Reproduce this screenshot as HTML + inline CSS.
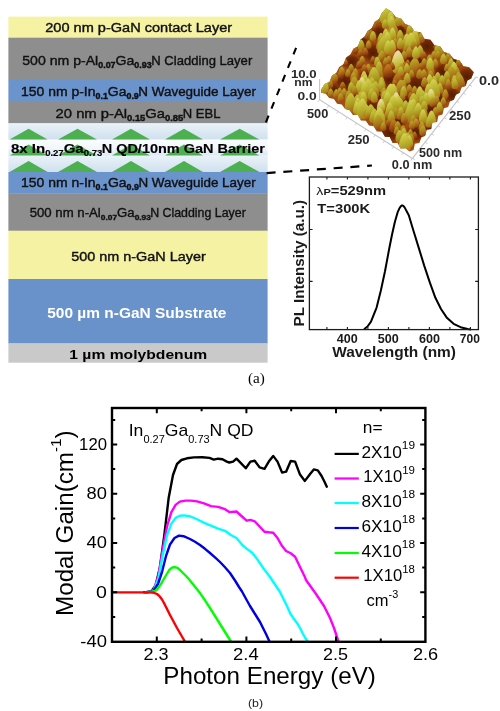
<!DOCTYPE html>
<html lang="en"><head><meta charset="utf-8"><title>Figure</title>
<style>html,body{margin:0;padding:0;background:#fff}svg{display:block;filter:blur(0.4px)}</style></head><body>
<svg width="500" height="711" viewBox="0 0 500 711">
<rect width="500" height="711" fill="#fff"/>
<defs><linearGradient id="qg" x1="0" y1="0" x2="0" y2="1"><stop offset="0" stop-color="#eaf2f9"/><stop offset="1" stop-color="#cfe0ee"/></linearGradient><linearGradient id="qg2" x1="0" y1="0" x2="0" y2="1"><stop offset="0" stop-color="#fbfdfe"/><stop offset="0.55" stop-color="#f1f6fb"/><stop offset="1" stop-color="#d9e8f4"/></linearGradient></defs>
<rect x="8.4" y="16.60" width="259.2" height="21.40" fill="#f5f2a4"/>
<rect x="8.4" y="37.70" width="259.2" height="42.60" fill="#8e8e8e"/>
<rect x="8.4" y="80.00" width="259.2" height="21.30" fill="#6b93cc"/>
<rect x="8.4" y="101.00" width="259.2" height="22.50" fill="#8e8e8e"/>
<rect x="8.4" y="123.20" width="259.2" height="16.60" fill="url(#qg)"/>
<rect x="8.4" y="139.50" width="259.2" height="16.30" fill="url(#qg2)"/>
<rect x="8.4" y="155.50" width="259.2" height="16.80" fill="url(#qg)"/>
<rect x="8.4" y="172.00" width="259.2" height="21.60" fill="#6b93cc"/>
<rect x="8.4" y="193.30" width="259.2" height="37.70" fill="#8e8e8e"/>
<rect x="8.4" y="230.70" width="259.2" height="48.60" fill="#f5f2a4"/>
<rect x="8.4" y="279.00" width="259.2" height="64.60" fill="#6a92ca"/>
<rect x="8.4" y="343.30" width="259.2" height="19.40" fill="#c9c9c9"/>
<polygon points="9.6,139.5 28.6,128.8 47.6,139.5" fill="#4caf50"/>
<polygon points="9.6,155.5 28.6,144.6 47.6,155.5" fill="#4caf50"/>
<polygon points="9.6,172.0 28.6,161.0 47.6,172.0" fill="#4caf50"/>
<polygon points="58.0,139.5 77.5,128.8 97.0,139.5" fill="#4caf50"/>
<polygon points="58.0,155.5 77.5,144.6 97.0,155.5" fill="#4caf50"/>
<polygon points="58.0,172.0 77.5,161.0 97.0,172.0" fill="#4caf50"/>
<polygon points="112.0,139.5 131.0,128.8 150.0,139.5" fill="#4caf50"/>
<polygon points="112.0,155.5 131.0,144.6 150.0,155.5" fill="#4caf50"/>
<polygon points="112.0,172.0 131.0,161.0 150.0,172.0" fill="#4caf50"/>
<polygon points="165.0,139.5 184.0,128.8 203.0,139.5" fill="#4caf50"/>
<polygon points="165.0,155.5 184.0,144.6 203.0,155.5" fill="#4caf50"/>
<polygon points="165.0,172.0 184.0,161.0 203.0,172.0" fill="#4caf50"/>
<polygon points="220.0,139.5 239.7,128.8 259.4,139.5" fill="#4caf50"/>
<polygon points="220.0,155.5 239.7,144.6 259.4,155.5" fill="#4caf50"/>
<polygon points="220.0,172.0 239.7,161.0 259.4,172.0" fill="#4caf50"/>
<line x1="265.9" y1="122.3" x2="296.2" y2="47.6" stroke="#000" stroke-width="2.1" stroke-dasharray="7.1 7.56"/>
<line x1="266.6" y1="173.1" x2="371.9" y2="165.5" stroke="#000" stroke-width="2.2" stroke-dasharray="9 7.8"/>
<path d="M319.6 79V99.6L412.4 158.4L476 76.8" fill="none" stroke="#c6c4c8" stroke-width="1.1"/>
<path d="M319.6 99.6l-1.6 2.2M412.4 158.4l2.4 1.4M328.9 105.5l-1.6 2.2M418.8 150.2l2.4 1.4M338.2 111.4l-1.6 2.2M425.1 142.1l2.4 1.4M347.4 117.2l-1.6 2.2M431.5 133.9l2.4 1.4M356.7 123.1l-1.6 2.2M437.8 125.8l2.4 1.4M366.0 129.0l-1.6 2.2M444.2 117.6l2.4 1.4M375.3 134.9l-1.6 2.2M450.6 109.4l2.4 1.4M384.6 140.8l-1.6 2.2M456.9 101.3l2.4 1.4M393.8 146.6l-1.6 2.2M463.3 93.1l2.4 1.4M403.1 152.5l-1.6 2.2M469.6 85.0l2.4 1.4M412.4 158.4l-1.6 2.2M476.0 76.8l2.4 1.4" stroke="#c6c4c8" stroke-width="0.9" fill="none"/>
<defs>
<linearGradient id="b0" x1="0.35" y1="0" x2="0.6" y2="1"><stop offset="0" stop-color="#f3dcc4"/><stop offset="0.3" stop-color="#dcd474"/><stop offset="0.62" stop-color="#c2b838"/><stop offset="0.9" stop-color="#b8841c"/><stop offset="1" stop-color="#b8841c" stop-opacity="0.6"/></linearGradient>
<linearGradient id="b1" x1="0.35" y1="0" x2="0.6" y2="1"><stop offset="0" stop-color="#d8d65c"/><stop offset="0.3" stop-color="#c6c03a"/><stop offset="0.62" stop-color="#b0a826"/><stop offset="0.9" stop-color="#b87e1a"/><stop offset="1" stop-color="#b87e1a" stop-opacity="0.6"/></linearGradient>
<linearGradient id="b2" x1="0.35" y1="0" x2="0.6" y2="1"><stop offset="0" stop-color="#c9c644"/><stop offset="0.3" stop-color="#b9b22e"/><stop offset="0.62" stop-color="#aa9420"/><stop offset="0.9" stop-color="#b06c16"/><stop offset="1" stop-color="#b06c16" stop-opacity="0.6"/></linearGradient>
<linearGradient id="b3" x1="0.35" y1="0" x2="0.6" y2="1"><stop offset="0" stop-color="#beac2e"/><stop offset="0.3" stop-color="#b29422"/><stop offset="0.62" stop-color="#a87218"/><stop offset="0.9" stop-color="#9a4c10"/><stop offset="1" stop-color="#9a4c10" stop-opacity="0.6"/></linearGradient>
<linearGradient id="b4" x1="0.35" y1="0" x2="0.6" y2="1"><stop offset="0" stop-color="#bc8a22"/><stop offset="0.3" stop-color="#b06c18"/><stop offset="0.62" stop-color="#9a4a10"/><stop offset="0.9" stop-color="#7e2e0a"/><stop offset="1" stop-color="#7e2e0a" stop-opacity="0.6"/></linearGradient>
<radialGradient id="dk"><stop offset="0" stop-color="#4a1406" stop-opacity="0.9"/><stop offset="0.55" stop-color="#5e1c08" stop-opacity="0.7"/><stop offset="1" stop-color="#7a2c0c" stop-opacity="0"/></radialGradient>
<linearGradient id="base" x1="0" y1="0" x2="0" y2="1"><stop offset="0" stop-color="#b4601a"/><stop offset="1" stop-color="#9a4410"/></linearGradient>
<filter id="sb" x="-5%" y="-5%" width="110%" height="110%"><feGaussianBlur stdDeviation="0.6"/></filter>
</defs>
<clipPath id="ac"><polygon points="386.0,8.3 391.6,11.8 395.6,16.9 401.3,18.8 405.2,24.1 410.8,26.1 414.7,31.5 420.9,32.2 424.3,38.7 430.4,39.7 434.3,44.9 440.2,46.4 444.0,52.0 449.6,53.8 453.7,59.0 459.5,60.4 463.3,66.0 469.3,67.3 473.8,72.2 471.2,78.4 467.4,80.5 465.7,85.9 461.5,87.3 459.8,92.8 455.9,94.7 453.8,99.7 449.8,101.4 448.2,107.1 443.9,108.3 442.5,114.4 438.4,115.8 437.1,122.1 432.4,122.6 431.2,129.0 426.6,129.7 425.2,135.7 421.2,137.5 419.4,142.9 414.9,143.7 413.6,150.0 409.6,151.6 405.7,148.2 400.5,148.5 397.6,143.0 392.6,142.9 389.8,137.0 384.9,136.7 381.9,131.5 376.8,131.4 373.8,126.3 369.0,125.5 365.8,120.8 360.9,120.4 358.0,115.0 352.9,115.0 349.7,110.3 345.1,109.1 341.8,104.6 337.1,103.7 333.9,98.9 329.2,97.9 325.8,93.7 321.1,92.7 321.2,89.5 324.6,84.1 329.4,82.1 332.0,75.6 336.3,72.7 339.2,66.9 343.6,64.1 346.1,57.4 350.4,54.5 353.3,48.8 357.9,46.3 360.4,39.8 364.6,36.5 367.6,31.1 371.9,27.9 374.6,21.9 379.0,18.9 381.8,13.1"/></clipPath>
<polygon points="386.0,8.3 391.6,11.8 395.6,16.9 401.3,18.8 405.2,24.1 410.8,26.1 414.7,31.5 420.9,32.2 424.3,38.7 430.4,39.7 434.3,44.9 440.2,46.4 444.0,52.0 449.6,53.8 453.7,59.0 459.5,60.4 463.3,66.0 469.3,67.3 473.8,72.2 471.2,78.4 467.4,80.5 465.7,85.9 461.5,87.3 459.8,92.8 455.9,94.7 453.8,99.7 449.8,101.4 448.2,107.1 443.9,108.3 442.5,114.4 438.4,115.8 437.1,122.1 432.4,122.6 431.2,129.0 426.6,129.7 425.2,135.7 421.2,137.5 419.4,142.9 414.9,143.7 413.6,150.0 409.6,151.6 405.7,148.2 400.5,148.5 397.6,143.0 392.6,142.9 389.8,137.0 384.9,136.7 381.9,131.5 376.8,131.4 373.8,126.3 369.0,125.5 365.8,120.8 360.9,120.4 358.0,115.0 352.9,115.0 349.7,110.3 345.1,109.1 341.8,104.6 337.1,103.7 333.9,98.9 329.2,97.9 325.8,93.7 321.1,92.7 321.2,89.5 324.6,84.1 329.4,82.1 332.0,75.6 336.3,72.7 339.2,66.9 343.6,64.1 346.1,57.4 350.4,54.5 353.3,48.8 357.9,46.3 360.4,39.8 364.6,36.5 367.6,31.1 371.9,27.9 374.6,21.9 379.0,18.9 381.8,13.1" fill="#a24e12"/><g clip-path="url(#ac)"><g filter="url(#sb)"><ellipse cx="372.8" cy="53.0" rx="13.0" ry="11.7" fill="url(#dk)"/><ellipse cx="379.0" cy="33.0" rx="10.2" ry="9.1" fill="url(#dk)"/><ellipse cx="416.0" cy="85.0" rx="14.5" ry="13.0" fill="url(#dk)"/><ellipse cx="345.6" cy="81.8" rx="13.0" ry="11.7" fill="url(#dk)"/><ellipse cx="467.0" cy="77.0" rx="13.0" ry="11.7" fill="url(#dk)"/><ellipse cx="390.0" cy="133.0" rx="13.0" ry="11.7" fill="url(#dk)"/><ellipse cx="427.0" cy="46.6" rx="13.0" ry="11.7" fill="url(#dk)"/><ellipse cx="443.0" cy="72.0" rx="11.6" ry="10.4" fill="url(#dk)"/><ellipse cx="390.0" cy="80.0" rx="11.6" ry="10.4" fill="url(#dk)"/><ellipse cx="372.0" cy="108.0" rx="11.6" ry="10.4" fill="url(#dk)"/><ellipse cx="416.0" cy="133.0" rx="11.6" ry="10.4" fill="url(#dk)"/><ellipse cx="352.0" cy="62.0" rx="10.2" ry="9.1" fill="url(#dk)"/><ellipse cx="402.0" cy="30.0" rx="8.7" ry="7.8" fill="url(#dk)"/><ellipse cx="452.0" cy="95.0" rx="10.2" ry="9.1" fill="url(#dk)"/><ellipse cx="333.0" cy="90.0" rx="8.7" ry="7.8" fill="url(#dk)"/><ellipse cx="407.0" cy="102.0" rx="10.2" ry="9.1" fill="url(#dk)"/><ellipse cx="430.0" cy="110.0" rx="10.2" ry="9.1" fill="url(#dk)"/><ellipse cx="380.0" cy="96.0" rx="7.2" ry="6.5" fill="url(#dk)"/><ellipse cx="398.0" cy="55.0" rx="8.7" ry="7.8" fill="url(#dk)"/><ellipse cx="362.0" cy="42.0" rx="8.7" ry="7.8" fill="url(#dk)"/><ellipse cx="440.0" cy="100.0" rx="8.7" ry="7.8" fill="url(#dk)"/><ellipse cx="420.0" cy="62.0" rx="8.7" ry="7.8" fill="url(#dk)"/><ellipse cx="355.0" cy="98.0" rx="8.7" ry="7.8" fill="url(#dk)"/><ellipse cx="398.0" cy="122.0" rx="8.7" ry="7.8" fill="url(#dk)"/><ellipse cx="445.0" cy="50.0" rx="8.7" ry="7.8" fill="url(#dk)"/><ellipse cx="410.0" cy="60.0" rx="7.2" ry="6.5" fill="url(#dk)"/><ellipse cx="365.0" cy="75.0" rx="7.2" ry="6.5" fill="url(#dk)"/><ellipse cx="430.0" cy="130.0" rx="7.2" ry="6.5" fill="url(#dk)"/><ellipse cx="455.0" cy="62.0" rx="7.2" ry="6.5" fill="url(#dk)"/><path d="M387.4 5.7c1.7 0 3.9 5.4 3.9 8.8c0 2.7 -2 3.8 -3.9 3.8c-2 0 -3.9 -1.1 -3.9 -3.8c0 -3.5 2.3 -8.8 3.9 -8.8z" fill="url(#b2)"/><path d="M392.9 9.3c1.3 0 3.1 3.9 3.1 6.5c0 1.9 -1.6 2.8 -3.1 2.8c-1.6 0 -3.1 -.8 -3.1 -2.8c0 -2.6 1.8 -6.5 3.1 -6.5z" fill="url(#b3)"/><path d="M385.6 5.1c2.4 0 5.8 8.2 5.8 13.5c0 4 -2.9 5.8 -5.8 5.8c-2.9 0 -5.8 -1.7 -5.8 -5.8c0 -5.3 3.4 -13.5 5.8 -13.5z" fill="url(#b1)"/><path d="M390.9 11.5c1.8 0 4.2 5.9 4.2 9.8c0 2.9 -2.1 4.2 -4.2 4.2c-2.1 0 -4.2 -1.3 -4.2 -4.2c0 -3.8 2.5 -9.8 4.2 -9.8z" fill="url(#b1)"/><path d="M376.9 15.3c1.4 0 3.3 4.2 3.3 7c0 2.1 -1.7 3 -3.3 3c-1.7 0 -3.3 -.9 -3.3 -3c0 -2.7 1.9 -7 3.3 -7z" fill="url(#b3)"/><path d="M398.8 13.2c1.7 0 4.1 5.5 4.1 9.1c0 2.7 -2 3.9 -4.1 3.9c-2 0 -4.1 -1.2 -4.1 -3.9c0 -3.6 2.4 -9.1 4.1 -9.1z" fill="url(#b2)"/><path d="M404.5 18.6c1.3 0 3 3.8 3 6.3c0 1.9 -1.5 2.7 -3 2.7c-1.5 0 -3 -.8 -3 -2.7c0 -2.5 1.8 -6.3 3 -6.3z" fill="url(#b3)"/><path d="M391.3 16c1.8 0 4.2 5.8 4.2 9.6c0 2.9 -2.1 4.1 -4.2 4.1c-2.1 0 -4.2 -1.2 -4.2 -4.1c0 -3.8 2.4 -9.6 4.2 -9.6z" fill="url(#b1)"/><path d="M385.1 19.1c1.4 0 3.2 4.2 3.2 7c0 2.1 -1.6 3 -3.2 3c-1.6 0 -3.2 -.9 -3.2 -3c0 -2.7 1.9 -7 3.2 -7z" fill="url(#b2)"/><path d="M406.9 22.9c1.2 0 2.8 3.3 2.8 5.5c0 1.6 -1.4 2.3 -2.8 2.3c-1.4 0 -2.8 -.7 -2.8 -2.3c0 -2.1 1.6 -5.5 2.8 -5.5z" fill="url(#b4)"/><path d="M373.7 22.6c1.1 0 2.7 3.3 2.7 5.5c0 1.7 -1.4 2.4 -2.7 2.4c-1.4 0 -2.7 -.7 -2.7 -2.4c0 -2.2 1.6 -5.5 2.7 -5.5z" fill="url(#b4)"/><path d="M389.3 25.8c1.4 0 3.4 4.1 3.4 6.7c0 2 -1.7 2.9 -3.4 2.9c-1.7 0 -3.4 -.9 -3.4 -2.9c0 -2.6 1.9 -6.7 3.4 -6.7z" fill="url(#b4)"/><path d="M410 23.8c1.6 0 3.8 5.2 3.8 8.6c0 2.6 -1.9 3.7 -3.8 3.7c-1.9 0 -3.8 -1.1 -3.8 -3.7c0 -3.4 2.2 -8.6 3.8 -8.6z" fill="url(#b2)"/><path d="M393.2 22.7c2.5 0 5.8 7.5 5.8 12.4c0 3.7 -2.9 5.3 -5.8 5.3c-2.9 0 -5.8 -1.6 -5.8 -5.3c0 -4.9 3.4 -12.4 5.8 -12.4z" fill="url(#b3)"/><path d="M415.8 25.7c1.4 0 3.4 4.7 3.4 7.7c0 2.3 -1.7 3.3 -3.4 3.3c-1.7 0 -3.4 -1 -3.4 -3.3c0 -3 2 -7.7 3.4 -7.7z" fill="url(#b2)"/><path d="M370.8 29.6c1.2 0 2.7 3.3 2.7 5.4c0 1.6 -1.4 2.3 -2.7 2.3c-1.4 0 -2.7 -.7 -2.7 -2.3c0 -2.1 1.6 -5.4 2.7 -5.4z" fill="url(#b4)"/><path d="M366.5 27.7c1.5 0 3.6 4.7 3.6 7.8c0 2.3 -1.8 3.3 -3.6 3.3c-1.8 0 -3.6 -1 -3.6 -3.3c0 -3 2.1 -7.8 3.6 -7.8z" fill="url(#b3)"/><path d="M373.8 31.4c1.1 0 2.6 3.1 2.6 5.2c0 1.6 -1.3 2.2 -2.6 2.2c-1.3 0 -2.6 -.7 -2.6 -2.2c0 -2 1.5 -5.2 2.6 -5.2z" fill="url(#b4)"/><path d="M411.5 30.6c1.4 0 3.3 4.1 3.3 6.7c0 2 -1.7 2.9 -3.3 2.9c-1.7 0 -3.3 -.9 -3.3 -2.9c0 -2.6 1.9 -6.7 3.3 -6.7z" fill="url(#b4)"/><path d="M392.6 27.6c1.6 0 3.8 5.5 3.8 9.1c0 2.7 -1.9 3.9 -3.8 3.9c-1.9 0 -3.8 -1.2 -3.8 -3.9c0 -3.6 2.2 -9.1 3.8 -9.1z" fill="url(#b1)"/><path d="M385.8 28.4c1.6 0 3.9 5.6 3.9 9.1c0 2.7 -1.9 3.9 -3.9 3.9c-1.9 0 -3.9 -1.2 -3.9 -3.9c0 -3.6 2.3 -9.1 3.9 -9.1z" fill="url(#b1)"/><path d="M372.9 30.9c1.4 0 3.3 4.3 3.3 7.1c0 2.1 -1.6 3 -3.3 3c-1.6 0 -3.3 -.9 -3.3 -3c0 -2.8 1.9 -7.1 3.3 -7.1z" fill="url(#b2)"/><path d="M400.1 29.8c1.5 0 3.6 5 3.6 8.2c0 2.5 -1.8 3.5 -3.6 3.5c-1.8 0 -3.6 -1.1 -3.6 -3.5c0 -3.2 2.1 -8.2 3.6 -8.2z" fill="url(#b2)"/><path d="M421.2 32.2c1.5 0 3.6 4.6 3.6 7.7c0 2.3 -1.8 3.3 -3.6 3.3c-1.8 0 -3.6 -1 -3.6 -3.3c0 -3 2.1 -7.7 3.6 -7.7z" fill="url(#b3)"/><path d="M414.9 29.5c1.8 0 4.2 6 4.2 10c0 3 -2.1 4.3 -4.2 4.3c-2.1 0 -4.2 -1.3 -4.2 -4.3c0 -3.9 2.4 -10 4.2 -10z" fill="url(#b1)"/><path d="M381.1 32.7c1.6 0 3.7 5.1 3.7 8.3c0 2.5 -1.9 3.6 -3.7 3.6c-1.9 0 -3.7 -1.1 -3.7 -3.6c0 -3.3 2.2 -8.3 3.7 -8.3z" fill="url(#b2)"/><path d="M406.7 33.4c1.6 0 3.8 5.4 3.8 8.8c0 2.6 -1.9 3.8 -3.8 3.8c-1.9 0 -3.8 -1.1 -3.8 -3.8c0 -3.5 2.2 -8.8 3.8 -8.8z" fill="url(#b1)"/><path d="M387.4 31.8c1.9 0 4.4 6.6 4.4 10.8c0 3.3 -2.2 4.6 -4.4 4.6c-2.2 0 -4.4 -1.4 -4.4 -4.6c0 -4.3 2.6 -10.8 4.4 -10.8z" fill="url(#b1)"/><path d="M395.3 38c1.2 0 3 3.8 3 6.3c0 1.9 -1.5 2.7 -3 2.7c-1.5 0 -3 -.8 -3 -2.7c0 -2.5 1.7 -6.3 3 -6.3z" fill="url(#b3)"/><path d="M417.2 38.3c1.3 0 3.1 3.9 3.1 6.4c0 1.9 -1.6 2.8 -3.1 2.8c-1.6 0 -3.1 -.8 -3.1 -2.8c0 -2.5 1.8 -6.4 3.1 -6.4z" fill="url(#b3)"/><path d="M411 32.4c2.6 0 6.1 8.4 6.1 13.9c0 4.2 -3 6 -6.1 6c-3 0 -6.1 -1.8 -6.1 -6c0 -5.5 3.5 -13.9 6.1 -13.9z" fill="url(#b1)"/><path d="M400.4 37.8c1.5 0 3.6 4.8 3.6 7.9c0 2.4 -1.8 3.4 -3.6 3.4c-1.8 0 -3.6 -1 -3.6 -3.4c0 -3.1 2.1 -7.9 3.6 -7.9z" fill="url(#b2)"/><path d="M368.6 40.3c1.2 0 2.9 3.7 2.9 6c0 1.8 -1.5 2.6 -2.9 2.6c-1.5 0 -2.9 -.8 -2.9 -2.6c0 -2.4 1.7 -6 2.9 -6z" fill="url(#b3)"/><path d="M435.5 43.5c.9 0 2.2 2.4 2.2 4c0 1.2 -1.1 1.7 -2.2 1.7c-1.1 0 -2.2 -.5 -2.2 -1.7c0 -1.6 1.2 -4 2.2 -4z" fill="url(#b4)"/><path d="M413.8 40.4c1.4 0 3.3 4.1 3.3 6.7c0 2 -1.6 2.9 -3.3 2.9c-1.6 0 -3.3 -.9 -3.3 -2.9c0 -2.6 1.9 -6.7 3.3 -6.7z" fill="url(#b3)"/><path d="M361.2 39.5c1.4 0 3.4 4.5 3.4 7.4c0 2.2 -1.7 3.2 -3.4 3.2c-1.7 0 -3.4 -1 -3.4 -3.2c0 -2.9 2 -7.4 3.4 -7.4z" fill="url(#b2)"/><path d="M378.7 41.7c1.2 0 2.8 3.5 2.8 5.8c0 1.7 -1.4 2.5 -2.8 2.5c-1.4 0 -2.8 -.7 -2.8 -2.5c0 -2.3 1.6 -5.8 2.8 -5.8z" fill="url(#b3)"/><path d="M383.5 35.8c2.7 0 6.3 8.6 6.3 14.2c0 4.3 -3.2 6.1 -6.3 6.1c-3.2 0 -6.3 -1.8 -6.3 -6.1c0 -5.6 3.7 -14.2 6.3 -14.2z" fill="url(#b2)"/><path d="M392.2 39.7c1.6 0 3.9 5.5 3.9 9c0 2.7 -1.9 3.9 -3.9 3.9c-1.9 0 -3.9 -1.2 -3.9 -3.9c0 -3.5 2.3 -9 3.9 -9z" fill="url(#b1)"/><path d="M406.3 43.6c1.3 0 3.2 4.1 3.2 6.8c0 2 -1.6 2.9 -3.2 2.9c-1.6 0 -3.2 -.9 -3.2 -2.9c0 -2.7 1.9 -6.8 3.2 -6.8z" fill="url(#b3)"/><path d="M388.2 40.2c1.7 0 4.2 6 4.2 9.9c0 3 -2.1 4.3 -4.2 4.3c-2.1 0 -4.2 -1.3 -4.2 -4.3c0 -3.9 2.4 -9.9 4.2 -9.9z" fill="url(#b1)"/><path d="M437.8 43.2c1.5 0 3.6 4.8 3.6 7.9c0 2.4 -1.8 3.4 -3.6 3.4c-1.8 0 -3.6 -1 -3.6 -3.4c0 -3.1 2.1 -7.9 3.6 -7.9z" fill="url(#b2)"/><path d="M355.4 46.3c1.2 0 2.9 3.5 2.9 5.8c0 1.7 -1.4 2.5 -2.9 2.5c-1.4 0 -2.9 -.7 -2.9 -2.5c0 -2.3 1.7 -5.8 2.9 -5.8z" fill="url(#b4)"/><path d="M365.3 47.4c1.3 0 3.2 3.9 3.2 6.4c0 1.9 -1.6 2.7 -3.2 2.7c-1.6 0 -3.2 -.8 -3.2 -2.7c0 -2.5 1.8 -6.4 3.2 -6.4z" fill="url(#b4)"/><path d="M420.1 45.3c1.5 0 3.6 4.9 3.6 8c0 2.4 -1.8 3.4 -3.6 3.4c-1.8 0 -3.6 -1 -3.6 -3.4c0 -3.1 2.1 -8 3.6 -8z" fill="url(#b2)"/><path d="M443.3 46.7c1.4 0 3.4 4.3 3.4 7.1c0 2.1 -1.7 3 -3.4 3c-1.7 0 -3.4 -.9 -3.4 -3c0 -2.8 2 -7.1 3.4 -7.1z" fill="url(#b3)"/><path d="M409.1 47c1.5 0 3.5 4.4 3.5 7.2c0 2.2 -1.7 3.1 -3.5 3.1c-1.7 0 -3.5 -.9 -3.5 -3.1c0 -2.8 2 -7.2 3.5 -7.2z" fill="url(#b3)"/><path d="M360.5 49c1.3 0 3.1 3.7 3.1 6c0 1.8 -1.5 2.6 -3.1 2.6c-1.5 0 -3.1 -.8 -3.1 -2.6c0 -2.4 1.8 -6 3.1 -6z" fill="url(#b4)"/><path d="M415.9 46.2c1.7 0 3.9 5.5 3.9 9.1c0 2.7 -2 3.9 -3.9 3.9c-2 0 -3.9 -1.2 -3.9 -3.9c0 -3.6 2.3 -9.1 3.9 -9.1z" fill="url(#b1)"/><path d="M404 50.8c1.3 0 3.1 3.8 3.1 6.3c0 1.9 -1.5 2.7 -3.1 2.7c-1.5 0 -3.1 -.8 -3.1 -2.7c0 -2.5 1.8 -6.3 3.1 -6.3z" fill="url(#b3)"/><path d="M423.6 51.1c1.3 0 3.2 3.9 3.2 6.4c0 1.9 -1.6 2.7 -3.2 2.7c-1.6 0 -3.2 -.8 -3.2 -2.7c0 -2.5 1.8 -6.4 3.2 -6.4z" fill="url(#b4)"/><path d="M433.8 51.1c1.2 0 3 3.7 3 6.1c0 1.8 -1.5 2.6 -3 2.6c-1.5 0 -3 -.8 -3 -2.6c0 -2.4 1.7 -6.1 3 -6.1z" fill="url(#b3)"/><path d="M438 50.5c1.3 0 3.1 4 3.1 6.6c0 2 -1.6 2.8 -3.1 2.8c-1.6 0 -3.1 -.9 -3.1 -2.8c0 -2.6 1.8 -6.6 3.1 -6.6z" fill="url(#b3)"/><path d="M393.3 49.9c2.1 0 5 5.9 5 9.7c0 2.9 -2.5 4.1 -5 4.1c-2.5 0 -5 -1.2 -5 -4.1c0 -3.8 2.9 -9.7 5 -9.7z" fill="url(#b4)"/><path d="M382 50.6c1.4 0 3.4 4.5 3.4 7.3c0 2.2 -1.7 3.1 -3.4 3.1c-1.7 0 -3.4 -.9 -3.4 -3.1c0 -2.9 2 -7.3 3.4 -7.3z" fill="url(#b3)"/><path d="M448.7 52.1c1.4 0 3.4 4.4 3.4 7.3c0 2.2 -1.7 3.1 -3.4 3.1c-1.7 0 -3.4 -.9 -3.4 -3.1c0 -2.9 2 -7.3 3.4 -7.3z" fill="url(#b3)"/><path d="M380.1 53.5c1.2 0 2.9 3.7 2.9 6c0 1.8 -1.5 2.6 -2.9 2.6c-1.5 0 -2.9 -.8 -2.9 -2.6c0 -2.4 1.7 -6 2.9 -6z" fill="url(#b3)"/><path d="M376.3 56.7c1 0 2.4 2.8 2.4 4.6c0 1.4 -1.2 2 -2.4 2c-1.2 0 -2.4 -.6 -2.4 -2c0 -1.8 1.4 -4.6 2.4 -4.6z" fill="url(#b4)"/><path d="M373 56.1c1.2 0 2.8 3.4 2.8 5.5c0 1.7 -1.4 2.4 -2.8 2.4c-1.4 0 -2.8 -.7 -2.8 -2.4c0 -2.2 1.6 -5.5 2.8 -5.5z" fill="url(#b4)"/><path d="M443.5 53.5c1.4 0 3.4 4.5 3.4 7.4c0 2.2 -1.7 3.2 -3.4 3.2c-1.7 0 -3.4 -1 -3.4 -3.2c0 -2.9 2 -7.4 3.4 -7.4z" fill="url(#b2)"/><path d="M388.8 55.6c1.2 0 2.8 3.5 2.8 5.7c0 1.7 -1.4 2.4 -2.8 2.4c-1.4 0 -2.8 -.7 -2.8 -2.4c0 -2.2 1.6 -5.7 2.8 -5.7z" fill="url(#b3)"/><path d="M429.7 54.4c1.4 0 3.4 4.3 3.4 7.1c0 2.1 -1.7 3 -3.4 3c-1.7 0 -3.4 -.9 -3.4 -3c0 -2.8 1.9 -7.1 3.4 -7.1z" fill="url(#b3)"/><path d="M398.3 57.8c1.2 0 2.8 3.2 2.8 5.3c0 1.6 -1.4 2.3 -2.8 2.3c-1.4 0 -2.8 -.7 -2.8 -2.3c0 -2.1 1.6 -5.3 2.8 -5.3z" fill="url(#b4)"/><path d="M362.2 55.7c1.3 0 3 3.8 3 6.3c0 1.9 -1.5 2.7 -3 2.7c-1.5 0 -3 -.8 -3 -2.7c0 -2.5 1.7 -6.3 3 -6.3z" fill="url(#b3)"/><path d="M385.7 57.2c1.2 0 2.8 3.6 2.8 5.9c0 1.8 -1.4 2.5 -2.8 2.5c-1.4 0 -2.8 -.8 -2.8 -2.5c0 -2.3 1.6 -5.9 2.8 -5.9z" fill="url(#b3)"/><path d="M459.4 56.4c1.4 0 3.4 4.5 3.4 7.3c0 2.2 -1.7 3.1 -3.4 3.1c-1.7 0 -3.4 -.9 -3.4 -3.1c0 -2.9 2 -7.3 3.4 -7.3z" fill="url(#b3)"/><path d="M345.6 59c1.1 0 2.7 3.2 2.7 5.3c0 1.6 -1.4 2.3 -2.7 2.3c-1.4 0 -2.7 -.7 -2.7 -2.3c0 -2.1 1.6 -5.3 2.7 -5.3z" fill="url(#b4)"/><path d="M377.3 56.8c1.3 0 3.2 4.2 3.2 6.9c0 2.1 -1.6 3 -3.2 3c-1.6 0 -3.2 -.9 -3.2 -3c0 -2.7 1.8 -6.9 3.2 -6.9z" fill="url(#b2)"/><path d="M424.2 57.9c1.3 0 3.1 3.9 3.1 6.5c0 1.9 -1.5 2.8 -3.1 2.8c-1.5 0 -3.1 -.8 -3.1 -2.8c0 -2.5 1.8 -6.5 3.1 -6.5z" fill="url(#b3)"/><path d="M407.8 59.4c1.1 0 2.7 3.3 2.7 5.5c0 1.6 -1.4 2.4 -2.7 2.4c-1.4 0 -2.7 -.7 -2.7 -2.4c0 -2.2 1.6 -5.5 2.7 -5.5z" fill="url(#b4)"/><path d="M413.2 59.6c1.3 0 3.1 3.6 3.1 6c0 1.8 -1.5 2.6 -3.1 2.6c-1.5 0 -3.1 -.8 -3.1 -2.6c0 -2.4 1.8 -6 3.1 -6z" fill="url(#b4)"/><path d="M435.3 58.5c1.3 0 3.1 4 3.1 6.6c0 2 -1.5 2.8 -3.1 2.8c-1.5 0 -3.1 -.8 -3.1 -2.8c0 -2.6 1.8 -6.6 3.1 -6.6z" fill="url(#b3)"/><path d="M394.6 60.6c1.1 0 2.7 3.2 2.7 5.3c0 1.6 -1.4 2.3 -2.7 2.3c-1.4 0 -2.7 -.7 -2.7 -2.3c0 -2.1 1.6 -5.3 2.7 -5.3z" fill="url(#b4)"/><path d="M398 50.3c2.9 0 6.8 9.9 6.8 16.4c0 4.9 -3.4 7 -6.8 7c-3.4 0 -6.8 -2.1 -6.8 -7c0 -6.4 3.9 -16.4 6.8 -16.4z" fill="url(#b0)"/><path d="M358.9 60.8c1.2 0 2.9 3.5 2.9 5.8c0 1.7 -1.5 2.5 -2.9 2.5c-1.5 0 -2.9 -.7 -2.9 -2.5c0 -2.3 1.7 -5.8 2.9 -5.8z" fill="url(#b4)"/><path d="M416.3 58.7c1.5 0 3.7 4.7 3.7 7.7c0 2.3 -1.8 3.3 -3.7 3.3c-1.8 0 -3.7 -1 -3.7 -3.3c0 -3 2.1 -7.7 3.7 -7.7z" fill="url(#b3)"/><path d="M404.4 61.8c1.1 0 2.7 3.1 2.7 5.1c0 1.5 -1.3 2.2 -2.7 2.2c-1.3 0 -2.7 -.7 -2.7 -2.2c0 -2 1.5 -5.1 2.7 -5.1z" fill="url(#b4)"/><path d="M451.1 58c1.4 0 3.4 4.7 3.4 7.7c0 2.3 -1.7 3.3 -3.4 3.3c-1.7 0 -3.4 -1 -3.4 -3.3c0 -3 2 -7.7 3.4 -7.7z" fill="url(#b2)"/><path d="M392.1 62c1.3 0 3 3.5 3 5.8c0 1.7 -1.5 2.5 -3 2.5c-1.5 0 -3 -.7 -3 -2.5c0 -2.3 1.8 -5.8 3 -5.8z" fill="url(#b4)"/><path d="M430.1 57.4c1.6 0 3.9 5.5 3.9 9.1c0 2.7 -1.9 3.9 -3.9 3.9c-1.9 0 -3.9 -1.2 -3.9 -3.9c0 -3.6 2.3 -9.1 3.9 -9.1z" fill="url(#b1)"/><path d="M414.2 58.2c2.3 0 5.5 7.1 5.5 11.6c0 3.5 -2.7 5 -5.5 5c-2.7 0 -5.5 -1.5 -5.5 -5c0 -4.6 3.2 -11.6 5.5 -11.6z" fill="url(#b3)"/><path d="M401.9 62.9c1.2 0 2.8 3.5 2.8 5.8c0 1.7 -1.4 2.5 -2.8 2.5c-1.4 0 -2.8 -.7 -2.8 -2.5c0 -2.3 1.6 -5.8 2.8 -5.8z" fill="url(#b3)"/><path d="M420.8 62.7c1.4 0 3.3 4 3.3 6.6c0 2 -1.6 2.8 -3.3 2.8c-1.6 0 -3.3 -.8 -3.3 -2.8c0 -2.6 1.9 -6.6 3.3 -6.6z" fill="url(#b4)"/><path d="M447 63.6c1.2 0 2.9 3.6 2.9 5.9c0 1.8 -1.4 2.5 -2.9 2.5c-1.4 0 -2.9 -.8 -2.9 -2.5c0 -2.3 1.7 -5.9 2.9 -5.9z" fill="url(#b3)"/><path d="M368.3 63.8c1.3 0 3.1 3.8 3.1 6.3c0 1.9 -1.6 2.7 -3.1 2.7c-1.6 0 -3.1 -.8 -3.1 -2.7c0 -2.5 1.8 -6.3 3.1 -6.3z" fill="url(#b3)"/><path d="M379.1 61.3c1.6 0 3.7 5.1 3.7 8.3c0 2.5 -1.9 3.6 -3.7 3.6c-1.9 0 -3.7 -1.1 -3.7 -3.6c0 -3.3 2.1 -8.3 3.7 -8.3z" fill="url(#b2)"/><path d="M351.2 63.7c1.3 0 3.1 4 3.1 6.6c0 2 -1.6 2.8 -3.1 2.8c-1.6 0 -3.1 -.8 -3.1 -2.8c0 -2.6 1.8 -6.6 3.1 -6.6z" fill="url(#b3)"/><path d="M364.6 64.3c1.4 0 3.3 4.1 3.3 6.7c0 2 -1.7 2.9 -3.3 2.9c-1.7 0 -3.3 -.9 -3.3 -2.9c0 -2.6 1.9 -6.7 3.3 -6.7z" fill="url(#b4)"/><path d="M406.8 63.1c1.3 0 3.2 4.2 3.2 6.9c0 2.1 -1.6 3 -3.2 3c-1.6 0 -3.2 -.9 -3.2 -3c0 -2.7 1.8 -6.9 3.2 -6.9z" fill="url(#b2)"/><path d="M388.1 64.1c2.1 0 5 5.8 5 9.6c0 2.9 -2.5 4.1 -5 4.1c-2.5 0 -5 -1.2 -5 -4.1c0 -3.8 2.9 -9.6 5 -9.6z" fill="url(#b4)"/><path d="M372.1 66.7c1.2 0 2.8 3.4 2.8 5.5c0 1.7 -1.4 2.4 -2.8 2.4c-1.4 0 -2.8 -.7 -2.8 -2.4c0 -2.2 1.6 -5.5 2.8 -5.5z" fill="url(#b4)"/><path d="M431.1 65.1c1.5 0 3.6 4.7 3.6 7.8c0 2.3 -1.8 3.3 -3.6 3.3c-1.8 0 -3.6 -1 -3.6 -3.3c0 -3 2.1 -7.8 3.6 -7.8z" fill="url(#b3)"/><path d="M454 61.7c1.9 0 4.4 6.4 4.4 10.5c0 3.1 -2.2 4.5 -4.4 4.5c-2.2 0 -4.4 -1.3 -4.4 -4.5c0 -4.1 2.6 -10.5 4.4 -10.5z" fill="url(#b1)"/><path d="M341.8 66.4c1.3 0 3.2 4 3.2 6.6c0 2 -1.6 2.8 -3.2 2.8c-1.6 0 -3.2 -.9 -3.2 -2.8c0 -2.6 1.8 -6.6 3.2 -6.6z" fill="url(#b3)"/><path d="M399 67c1.3 0 3 3.8 3 6.2c0 1.9 -1.5 2.6 -3 2.6c-1.5 0 -3 -.8 -3 -2.6c0 -2.4 1.7 -6.2 3 -6.2z" fill="url(#b3)"/><path d="M400.9 66.2c1.4 0 3.2 4.2 3.2 7c0 2.1 -1.6 3 -3.2 3c-1.6 0 -3.2 -.9 -3.2 -3c0 -2.7 1.9 -7 3.2 -7z" fill="url(#b2)"/><path d="M457.2 67.4c1.3 0 3.1 4 3.1 6.6c0 2 -1.6 2.8 -3.1 2.8c-1.6 0 -3.1 -.9 -3.1 -2.8c0 -2.6 1.8 -6.6 3.1 -6.6z" fill="url(#b3)"/><path d="M348 69c1.2 0 2.8 3.5 2.8 5.7c0 1.7 -1.4 2.5 -2.8 2.5c-1.4 0 -2.8 -.7 -2.8 -2.5c0 -2.2 1.6 -5.7 2.8 -5.7z" fill="url(#b3)"/><path d="M355.4 68.3c1.3 0 3.1 4.1 3.1 6.7c0 2 -1.6 2.9 -3.1 2.9c-1.6 0 -3.1 -.9 -3.1 -2.9c0 -2.6 1.8 -6.7 3.1 -6.7z" fill="url(#b3)"/><path d="M411.6 69.7c1.2 0 2.9 3.6 2.9 5.9c0 1.8 -1.4 2.5 -2.9 2.5c-1.4 0 -2.9 -.8 -2.9 -2.5c0 -2.3 1.7 -5.9 2.9 -5.9z" fill="url(#b3)"/><path d="M419.7 68.9c1.5 0 3.5 4.3 3.5 7.1c0 2.1 -1.7 3.1 -3.5 3.1c-1.7 0 -3.5 -.9 -3.5 -3.1c0 -2.8 2 -7.1 3.5 -7.1z" fill="url(#b3)"/><path d="M340.3 70.7c1.3 0 3.1 3.6 3.1 5.9c0 1.8 -1.5 2.5 -3.1 2.5c-1.5 0 -3.1 -.8 -3.1 -2.5c0 -2.3 1.8 -5.9 3.1 -5.9z" fill="url(#b4)"/><path d="M451.2 66.3c2.2 0 5.3 6.7 5.3 11c0 3.3 -2.6 4.7 -5.3 4.7c-2.6 0 -5.3 -1.4 -5.3 -4.7c0 -4.3 3.1 -11 5.3 -11z" fill="url(#b3)"/><path d="M423.8 69c1.4 0 3.4 4.3 3.4 7.1c0 2.1 -1.7 3 -3.4 3c-1.7 0 -3.4 -.9 -3.4 -3c0 -2.8 2 -7.1 3.4 -7.1z" fill="url(#b3)"/><path d="M378.2 66.2c2.3 0 5.4 7.1 5.4 11.6c0 3.5 -2.7 5 -5.4 5c-2.7 0 -5.4 -1.5 -5.4 -5c0 -4.6 3.1 -11.6 5.4 -11.6z" fill="url(#b3)"/><path d="M430.9 70.5c1.3 0 3 3.8 3 6.3c0 1.9 -1.5 2.7 -3 2.7c-1.5 0 -3 -.8 -3 -2.7c0 -2.5 1.7 -6.3 3 -6.3z" fill="url(#b3)"/><path d="M446.9 71c1.4 0 3.4 4.5 3.4 7.4c0 2.2 -1.7 3.2 -3.4 3.2c-1.7 0 -3.4 -1 -3.4 -3.2c0 -2.9 2 -7.4 3.4 -7.4z" fill="url(#b2)"/><path d="M458.4 71.5c1.5 0 3.5 4.6 3.5 7.6c0 2.3 -1.8 3.2 -3.5 3.2c-1.8 0 -3.5 -1 -3.5 -3.2c0 -3 2.1 -7.6 3.5 -7.6z" fill="url(#b3)"/><path d="M355.9 73.6c1.2 0 2.8 3.5 2.8 5.7c0 1.7 -1.4 2.4 -2.8 2.4c-1.4 0 -2.8 -.7 -2.8 -2.4c0 -2.2 1.6 -5.7 2.8 -5.7z" fill="url(#b4)"/><path d="M334.5 72.5c1.5 0 3.5 4.3 3.5 7.1c0 2.1 -1.7 3.1 -3.5 3.1c-1.7 0 -3.5 -.9 -3.5 -3.1c0 -2.8 2 -7.1 3.5 -7.1z" fill="url(#b3)"/><path d="M353.6 72c1.5 0 3.5 4.5 3.5 7.4c0 2.2 -1.7 3.2 -3.5 3.2c-1.7 0 -3.5 -.9 -3.5 -3.2c0 -2.9 2 -7.4 3.5 -7.4z" fill="url(#b3)"/><path d="M374 67.1c2.6 0 6.2 8.3 6.2 13.7c0 4.1 -3.1 5.9 -6.2 5.9c-3.1 0 -6.2 -1.8 -6.2 -5.9c0 -5.4 3.6 -13.7 6.2 -13.7z" fill="url(#b2)"/><path d="M437.8 72c1.4 0 3.4 4.4 3.4 7.3c0 2.2 -1.7 3.1 -3.4 3.1c-1.7 0 -3.4 -.9 -3.4 -3.1c0 -2.9 1.9 -7.3 3.4 -7.3z" fill="url(#b2)"/><path d="M364 71.1c1.5 0 3.6 5.1 3.6 8.4c0 2.5 -1.8 3.6 -3.6 3.6c-1.8 0 -3.6 -1.1 -3.6 -3.6c0 -3.3 2.1 -8.4 3.6 -8.4z" fill="url(#b1)"/><path d="M407.2 72.8c1.5 0 3.5 4.6 3.5 7.6c0 2.3 -1.7 3.3 -3.5 3.3c-1.7 0 -3.5 -1 -3.5 -3.3c0 -3 2 -7.6 3.5 -7.6z" fill="url(#b2)"/><path d="M397.4 73.3c2.1 0 5.1 6.1 5.1 10c0 3 -2.5 4.3 -5.1 4.3c-2.5 0 -5.1 -1.3 -5.1 -4.3c0 -3.9 2.9 -10 5.1 -10z" fill="url(#b4)"/><path d="M442.1 75.1c1.4 0 3.4 4.5 3.4 7.4c0 2.2 -1.7 3.2 -3.4 3.2c-1.7 0 -3.4 -1 -3.4 -3.2c0 -2.9 2 -7.4 3.4 -7.4z" fill="url(#b2)"/><path d="M454.5 75c1.4 0 3.4 4.6 3.4 7.5c0 2.3 -1.7 3.2 -3.4 3.2c-1.7 0 -3.4 -1 -3.4 -3.2c0 -3 1.9 -7.5 3.4 -7.5z" fill="url(#b2)"/><path d="M459.6 73.7c2.3 0 5.5 7 5.5 11.5c0 3.5 -2.8 4.9 -5.5 4.9c-2.8 0 -5.5 -1.5 -5.5 -4.9c0 -4.5 3.2 -11.5 5.5 -11.5z" fill="url(#b3)"/><path d="M429.7 74.3c1.6 0 3.8 5.4 3.8 8.8c0 2.7 -1.9 3.8 -3.8 3.8c-1.9 0 -3.8 -1.1 -3.8 -3.8c0 -3.5 2.2 -8.8 3.8 -8.8z" fill="url(#b1)"/><path d="M434.2 75.8c1.5 0 3.6 4.9 3.6 8c0 2.4 -1.8 3.4 -3.6 3.4c-1.8 0 -3.6 -1 -3.6 -3.4c0 -3.2 2.1 -8 3.6 -8z" fill="url(#b2)"/><path d="M424.6 77c1.5 0 3.5 4.4 3.5 7.3c0 2.2 -1.7 3.1 -3.5 3.1c-1.7 0 -3.5 -.9 -3.5 -3.1c0 -2.9 2 -7.3 3.5 -7.3z" fill="url(#b3)"/><path d="M394.7 79.6c1.2 0 2.9 3.4 2.9 5.6c0 1.7 -1.5 2.4 -2.9 2.4c-1.5 0 -2.9 -.7 -2.9 -2.4c0 -2.2 1.7 -5.6 2.9 -5.6z" fill="url(#b4)"/><path d="M381.6 76.8c1.4 0 3.3 4.5 3.3 7.4c0 2.2 -1.7 3.2 -3.3 3.2c-1.7 0 -3.3 -.9 -3.3 -3.2c0 -2.9 1.9 -7.4 3.3 -7.4z" fill="url(#b2)"/><path d="M448.2 79c1.2 0 3 3.7 3 6.1c0 1.8 -1.5 2.6 -3 2.6c-1.5 0 -3 -.8 -3 -2.6c0 -2.4 1.7 -6.1 3 -6.1z" fill="url(#b3)"/><path d="M365.1 74.4c1.7 0 4.1 6 4.1 9.8c0 3 -2.1 4.2 -4.1 4.2c-2.1 0 -4.1 -1.3 -4.1 -4.2c0 -3.9 2.4 -9.8 4.1 -9.8z" fill="url(#b1)"/><path d="M329.5 77.9c1.5 0 3.6 4.5 3.6 7.5c0 2.2 -1.8 3.2 -3.6 3.2c-1.8 0 -3.6 -1 -3.6 -3.2c0 -2.9 2.1 -7.5 3.6 -7.5z" fill="url(#b3)"/><path d="M383 80.2c1.2 0 2.9 3.6 2.9 6c0 1.8 -1.5 2.6 -2.9 2.6c-1.5 0 -2.9 -.8 -2.9 -2.6c0 -2.3 1.7 -6 2.9 -6z" fill="url(#b3)"/><path d="M354.5 76.4c2.2 0 5.2 6.7 5.2 11c0 3.3 -2.6 4.7 -5.2 4.7c-2.6 0 -5.2 -1.4 -5.2 -4.7c0 -4.3 3 -11 5.2 -11z" fill="url(#b3)"/><path d="M454.9 78.4c1.4 0 3.4 4.6 3.4 7.5c0 2.3 -1.7 3.2 -3.4 3.2c-1.7 0 -3.4 -1 -3.4 -3.2c0 -3 1.9 -7.5 3.4 -7.5z" fill="url(#b2)"/><path d="M372 77.3c1.6 0 3.9 5.4 3.9 8.9c0 2.7 -1.9 3.8 -3.9 3.8c-1.9 0 -3.9 -1.1 -3.9 -3.8c0 -3.5 2.3 -8.9 3.9 -8.9z" fill="url(#b2)"/><path d="M403.3 80c1.5 0 3.6 4.7 3.6 7.7c0 2.3 -1.8 3.3 -3.6 3.3c-1.8 0 -3.6 -1 -3.6 -3.3c0 -3 2.1 -7.7 3.6 -7.7z" fill="url(#b3)"/><path d="M342.7 81.7c1.3 0 3.2 3.9 3.2 6.4c0 1.9 -1.6 2.7 -3.2 2.7c-1.6 0 -3.2 -.8 -3.2 -2.7c0 -2.5 1.8 -6.4 3.2 -6.4z" fill="url(#b4)"/><path d="M362 77.1c1.7 0 4 5.8 4 9.6c0 2.9 -2 4.1 -4 4.1c-2 0 -4 -1.2 -4 -4.1c0 -3.8 2.3 -9.6 4 -9.6z" fill="url(#b0)"/><path d="M381.4 80.2c1.6 0 3.8 5.1 3.8 8.4c0 2.5 -1.9 3.6 -3.8 3.6c-1.9 0 -3.8 -1.1 -3.8 -3.6c0 -3.3 2.2 -8.4 3.8 -8.4z" fill="url(#b2)"/><path d="M375.7 81.2c1.6 0 3.8 5 3.8 8.2c0 2.5 -1.9 3.5 -3.8 3.5c-1.9 0 -3.8 -1.1 -3.8 -3.5c0 -3.2 2.2 -8.2 3.8 -8.2z" fill="url(#b2)"/><path d="M400.8 79.7c2.3 0 5.5 6.8 5.5 11.3c0 3.4 -2.7 4.8 -5.5 4.8c-2.7 0 -5.5 -1.4 -5.5 -4.8c0 -4.4 3.2 -11.3 5.5 -11.3z" fill="url(#b3)"/><path d="M432.2 82.1c1.4 0 3.4 4.4 3.4 7.3c0 2.2 -1.7 3.1 -3.4 3.1c-1.7 0 -3.4 -.9 -3.4 -3.1c0 -2.9 2 -7.3 3.4 -7.3z" fill="url(#b3)"/><path d="M351.1 81.9c1.4 0 3.3 4.5 3.3 7.4c0 2.2 -1.7 3.2 -3.3 3.2c-1.7 0 -3.3 -1 -3.3 -3.2c0 -2.9 1.9 -7.4 3.3 -7.4z" fill="url(#b2)"/><path d="M409.3 84.2c1.3 0 3 3.7 3 6.1c0 1.8 -1.5 2.6 -3 2.6c-1.5 0 -3 -.8 -3 -2.6c0 -2.4 1.7 -6.1 3 -6.1z" fill="url(#b3)"/><path d="M324.7 79.6c1.7 0 4.1 6 4.1 9.9c0 3 -2 4.2 -4.1 4.2c-2 0 -4.1 -1.3 -4.1 -4.2c0 -3.9 2.4 -9.9 4.1 -9.9z" fill="url(#b1)"/><path d="M359.4 80c1.7 0 4.1 5.9 4.1 9.8c0 2.9 -2 4.2 -4.1 4.2c-2 0 -4.1 -1.3 -4.1 -4.2c0 -3.8 2.4 -9.8 4.1 -9.8z" fill="url(#b1)"/><path d="M368.2 78.8c1.8 0 4.3 6.5 4.3 10.8c0 3.2 -2.1 4.6 -4.3 4.6c-2.1 0 -4.3 -1.4 -4.3 -4.6c0 -4.2 2.5 -10.8 4.3 -10.8z" fill="url(#b1)"/><path d="M439.8 82.8c1.4 0 3.4 4.6 3.4 7.6c0 2.3 -1.7 3.2 -3.4 3.2c-1.7 0 -3.4 -1 -3.4 -3.2c0 -3 2 -7.6 3.4 -7.6z" fill="url(#b2)"/><path d="M414.6 85.8c1.3 0 3.1 3.8 3.1 6.3c0 1.9 -1.5 2.7 -3.1 2.7c-1.5 0 -3.1 -.8 -3.1 -2.7c0 -2.5 1.8 -6.3 3.1 -6.3z" fill="url(#b3)"/><path d="M354.6 85.6c1.4 0 3.2 4.1 3.2 6.7c0 2 -1.6 2.9 -3.2 2.9c-1.6 0 -3.2 -.9 -3.2 -2.9c0 -2.6 1.9 -6.7 3.2 -6.7z" fill="url(#b3)"/><path d="M390.1 86.1c1.3 0 3.1 3.9 3.1 6.4c0 1.9 -1.6 2.7 -3.1 2.7c-1.6 0 -3.1 -.8 -3.1 -2.7c0 -2.5 1.8 -6.4 3.1 -6.4z" fill="url(#b3)"/><path d="M339.6 87.5c1.2 0 2.8 3.6 2.8 5.9c0 1.8 -1.4 2.5 -2.8 2.5c-1.4 0 -2.8 -.8 -2.8 -2.5c0 -2.3 1.6 -5.9 2.8 -5.9z" fill="url(#b3)"/><path d="M433.7 78.9c2.7 0 6.3 9.3 6.3 15.2c0 4.6 -3.2 6.5 -6.3 6.5c-3.2 0 -6.3 -2 -6.3 -6.5c0 -6 3.7 -15.2 6.3 -15.2z" fill="url(#b1)"/><path d="M372 82.7c2.4 0 5.6 7.4 5.6 12.2c0 3.7 -2.8 5.2 -5.6 5.2c-2.8 0 -5.6 -1.6 -5.6 -5.2c0 -4.8 3.3 -12.2 5.6 -12.2z" fill="url(#b2)"/><path d="M403.6 85.8c1.5 0 3.5 4.7 3.5 7.8c0 2.3 -1.8 3.3 -3.5 3.3c-1.8 0 -3.5 -1 -3.5 -3.3c0 -3.1 2.1 -7.8 3.5 -7.8z" fill="url(#b2)"/><path d="M365 81.5c1.9 0 4.5 6.9 4.5 11.4c0 3.4 -2.3 4.9 -4.5 4.9c-2.3 0 -4.5 -1.5 -4.5 -4.9c0 -4.5 2.6 -11.4 4.5 -11.4z" fill="url(#b1)"/><path d="M428.5 83.5c1.7 0 4 6 4 9.9c0 3 -2 4.2 -4 4.2c-2 0 -4 -1.3 -4 -4.2c0 -3.9 2.3 -9.9 4 -9.9z" fill="url(#b1)"/><path d="M344.1 88.1c1.4 0 3.3 4.1 3.3 6.8c0 2 -1.6 2.9 -3.3 2.9c-1.6 0 -3.3 -.9 -3.3 -2.9c0 -2.7 1.9 -6.8 3.3 -6.8z" fill="url(#b3)"/><path d="M376.1 87.6c1.4 0 3.4 4.4 3.4 7.2c0 2.2 -1.7 3.1 -3.4 3.1c-1.7 0 -3.4 -.9 -3.4 -3.1c0 -2.8 2 -7.2 3.4 -7.2z" fill="url(#b3)"/><path d="M330.7 88.3c1.3 0 3.2 4.1 3.2 6.7c0 2 -1.6 2.9 -3.2 2.9c-1.6 0 -3.2 -.9 -3.2 -2.9c0 -2.6 1.9 -6.7 3.2 -6.7z" fill="url(#b3)"/><path d="M383.9 87.8c1.5 0 3.6 4.6 3.6 7.5c0 2.3 -1.8 3.2 -3.6 3.2c-1.8 0 -3.6 -1 -3.6 -3.2c0 -2.9 2.1 -7.5 3.6 -7.5z" fill="url(#b3)"/><path d="M393.5 83.7c1.8 0 4.4 6.5 4.4 10.7c0 3.2 -2.2 4.6 -4.4 4.6c-2.2 0 -4.4 -1.4 -4.4 -4.6c0 -4.2 2.5 -10.7 4.4 -10.7z" fill="url(#b1)"/><path d="M445.4 89.3c1.4 0 3.2 4.1 3.2 6.7c0 2 -1.6 2.9 -3.2 2.9c-1.6 0 -3.2 -.9 -3.2 -2.9c0 -2.6 1.9 -6.7 3.2 -6.7z" fill="url(#b3)"/><path d="M336.3 89c1.4 0 3.2 4.2 3.2 6.9c0 2.1 -1.6 2.9 -3.2 2.9c-1.6 0 -3.2 -.9 -3.2 -2.9c0 -2.7 1.9 -6.9 3.2 -6.9z" fill="url(#b3)"/><path d="M371.4 88.3c1.5 0 3.6 5 3.6 8.2c0 2.5 -1.8 3.5 -3.6 3.5c-1.8 0 -3.6 -1.1 -3.6 -3.5c0 -3.2 2.1 -8.2 3.6 -8.2z" fill="url(#b2)"/><path d="M419.8 86.2c1.9 0 4.4 6.4 4.4 10.5c0 3.1 -2.2 4.5 -4.4 4.5c-2.2 0 -4.4 -1.3 -4.4 -4.5c0 -4.1 2.6 -10.5 4.4 -10.5z" fill="url(#b1)"/><path d="M390.9 83.5c2.7 0 6.5 9.1 6.5 14.9c0 4.5 -3.2 6.4 -6.5 6.4c-3.2 0 -6.5 -1.9 -6.5 -6.4c0 -5.9 3.7 -14.9 6.5 -14.9z" fill="url(#b1)"/><path d="M410.6 92c1.1 0 2.7 3.4 2.7 5.5c0 1.7 -1.4 2.4 -2.7 2.4c-1.4 0 -2.7 -.7 -2.7 -2.4c0 -2.2 1.6 -5.5 2.7 -5.5z" fill="url(#b4)"/><path d="M432.8 89.7c1.5 0 3.5 4.7 3.5 7.7c0 2.3 -1.7 3.3 -3.5 3.3c-1.7 0 -3.5 -1 -3.5 -3.3c0 -3 2 -7.7 3.5 -7.7z" fill="url(#b2)"/><path d="M348.7 90.3c1.6 0 3.8 4.9 3.8 8.1c0 2.4 -1.9 3.5 -3.8 3.5c-1.9 0 -3.8 -1 -3.8 -3.5c0 -3.2 2.2 -8.1 3.8 -8.1z" fill="url(#b3)"/><path d="M402.4 92c1.3 0 3 3.8 3 6.3c0 1.9 -1.5 2.7 -3 2.7c-1.5 0 -3 -.8 -3 -2.7c0 -2.5 1.7 -6.3 3 -6.3z" fill="url(#b3)"/><path d="M384.6 90.6c1.6 0 3.8 5.2 3.8 8.5c0 2.6 -1.9 3.7 -3.8 3.7c-1.9 0 -3.8 -1.1 -3.8 -3.7c0 -3.4 2.2 -8.5 3.8 -8.5z" fill="url(#b2)"/><path d="M444.8 94.6c1.1 0 2.6 3.1 2.6 5.2c0 1.6 -1.3 2.2 -2.6 2.2c-1.3 0 -2.6 -.7 -2.6 -2.2c0 -2 1.5 -5.2 2.6 -5.2z" fill="url(#b4)"/><path d="M340.6 92.9c1.3 0 3.2 4.1 3.2 6.7c0 2 -1.6 2.9 -3.2 2.9c-1.6 0 -3.2 -.9 -3.2 -2.9c0 -2.7 1.9 -6.7 3.2 -6.7z" fill="url(#b3)"/><path d="M374.3 91.5c1.5 0 3.6 4.8 3.6 7.9c0 2.4 -1.8 3.4 -3.6 3.4c-1.8 0 -3.6 -1 -3.6 -3.4c0 -3.1 2.1 -7.9 3.6 -7.9z" fill="url(#b2)"/><path d="M431 88.7c1.8 0 4.3 6.2 4.3 10.3c0 3.1 -2.1 4.4 -4.3 4.4c-2.1 0 -4.3 -1.3 -4.3 -4.4c0 -4 2.5 -10.3 4.3 -10.3z" fill="url(#b0)"/><path d="M360.7 91.4c1.6 0 3.7 5.1 3.7 8.3c0 2.5 -1.9 3.6 -3.7 3.6c-1.9 0 -3.7 -1.1 -3.7 -3.6c0 -3.3 2.2 -8.3 3.7 -8.3z" fill="url(#b2)"/><path d="M422.9 90.6c1.7 0 4.2 5.7 4.2 9.4c0 2.8 -2.1 4 -4.2 4c-2.1 0 -4.2 -1.2 -4.2 -4c0 -3.7 2.4 -9.4 4.2 -9.4z" fill="url(#b2)"/><path d="M412.7 94.7c1.3 0 3 3.7 3 6.1c0 1.8 -1.5 2.6 -3 2.6c-1.5 0 -3 -.8 -3 -2.6c0 -2.4 1.7 -6.1 3 -6.1z" fill="url(#b3)"/><path d="M363.5 91.5c1.6 0 3.8 5.3 3.8 8.7c0 2.6 -1.9 3.7 -3.8 3.7c-1.9 0 -3.8 -1.1 -3.8 -3.7c0 -3.4 2.2 -8.7 3.8 -8.7z" fill="url(#b1)"/><path d="M436.5 95.4c1.4 0 3.3 4.1 3.3 6.7c0 2 -1.6 2.9 -3.3 2.9c-1.6 0 -3.3 -.9 -3.3 -2.9c0 -2.6 1.9 -6.7 3.3 -6.7z" fill="url(#b3)"/><path d="M387.5 91.4c1.9 0 4.5 6.4 4.5 10.6c0 3.2 -2.2 4.5 -4.5 4.5c-2.2 0 -4.5 -1.4 -4.5 -4.5c0 -4.2 2.6 -10.6 4.5 -10.6z" fill="url(#b1)"/><path d="M426.3 92.6c1.6 0 3.8 5.5 3.8 9.1c0 2.7 -1.9 3.9 -3.8 3.9c-1.9 0 -3.8 -1.2 -3.8 -3.9c0 -3.6 2.2 -9.1 3.8 -9.1z" fill="url(#b1)"/><path d="M348.4 95.7c1.4 0 3.4 4.3 3.4 7.1c0 2.1 -1.7 3.1 -3.4 3.1c-1.7 0 -3.4 -.9 -3.4 -3.1c0 -2.8 1.9 -7.1 3.4 -7.1z" fill="url(#b3)"/><path d="M422.1 95.8c1.4 0 3.4 4.4 3.4 7.3c0 2.2 -1.7 3.1 -3.4 3.1c-1.7 0 -3.4 -.9 -3.4 -3.1c0 -2.9 2 -7.3 3.4 -7.3z" fill="url(#b2)"/><path d="M357.3 94.3c1.6 0 3.9 5.3 3.9 8.8c0 2.6 -2 3.8 -3.9 3.8c-2 0 -3.9 -1.1 -3.9 -3.8c0 -3.4 2.3 -8.8 3.9 -8.8z" fill="url(#b2)"/><path d="M443.3 97c1.3 0 3.1 3.9 3.1 6.5c0 1.9 -1.5 2.8 -3.1 2.8c-1.5 0 -3.1 -.8 -3.1 -2.8c0 -2.5 1.8 -6.5 3.1 -6.5z" fill="url(#b3)"/><path d="M432.5 97.2c1.3 0 3.2 4.1 3.2 6.7c0 2 -1.6 2.9 -3.2 2.9c-1.6 0 -3.2 -.9 -3.2 -2.9c0 -2.6 1.8 -6.7 3.2 -6.7z" fill="url(#b3)"/><path d="M396.3 92.3c1.8 0 4.4 6.5 4.4 10.8c0 3.2 -2.2 4.6 -4.4 4.6c-2.2 0 -4.4 -1.4 -4.4 -4.6c0 -4.2 2.5 -10.8 4.4 -10.8z" fill="url(#b0)"/><path d="M413.6 93c2.3 0 5.5 7.5 5.5 12.4c0 3.7 -2.8 5.3 -5.5 5.3c-2.8 0 -5.5 -1.6 -5.5 -5.3c0 -4.9 3.2 -12.4 5.5 -12.4z" fill="url(#b2)"/><path d="M350.9 93c2.6 0 6.1 8.4 6.1 13.9c0 4.2 -3.1 5.9 -6.1 5.9c-3.1 0 -6.1 -1.8 -6.1 -5.9c0 -5.4 3.6 -13.9 6.1 -13.9z" fill="url(#b2)"/><path d="M357.9 97.5c1.6 0 3.8 5.4 3.8 8.9c0 2.7 -1.9 3.8 -3.8 3.8c-1.9 0 -3.8 -1.1 -3.8 -3.8c0 -3.5 2.2 -8.9 3.8 -8.9z" fill="url(#b1)"/><path d="M382.6 98.9c1.5 0 3.6 4.9 3.6 8.1c0 2.4 -1.8 3.5 -3.6 3.5c-1.8 0 -3.6 -1 -3.6 -3.5c0 -3.2 2.1 -8.1 3.6 -8.1z" fill="url(#b2)"/><path d="M400.6 98.2c1.7 0 4.1 5.6 4.1 9.2c0 2.8 -2 4 -4.1 4c-2 0 -4.1 -1.2 -4.1 -4c0 -3.6 2.4 -9.2 4.1 -9.2z" fill="url(#b2)"/><path d="M413.6 98.8c1.5 0 3.6 5.1 3.6 8.3c0 2.5 -1.8 3.6 -3.6 3.6c-1.8 0 -3.6 -1.1 -3.6 -3.6c0 -3.3 2.1 -8.3 3.6 -8.3z" fill="url(#b1)"/><path d="M398.2 95.5c1.9 0 4.6 7 4.6 11.5c0 3.4 -2.3 4.9 -4.6 4.9c-2.3 0 -4.6 -1.5 -4.6 -4.9c0 -4.5 2.6 -11.5 4.6 -11.5z" fill="url(#b1)"/><path d="M424.1 100.4c1.5 0 3.6 4.8 3.6 7.9c0 2.4 -1.8 3.4 -3.6 3.4c-1.8 0 -3.6 -1 -3.6 -3.4c0 -3.1 2.1 -7.9 3.6 -7.9z" fill="url(#b2)"/><path d="M405.6 100.3c1.6 0 3.8 5.1 3.8 8.4c0 2.5 -1.9 3.6 -3.8 3.6c-1.9 0 -3.8 -1.1 -3.8 -3.6c0 -3.3 2.2 -8.4 3.8 -8.4z" fill="url(#b2)"/><path d="M439.6 101.7c1.4 0 3.4 4.5 3.4 7.4c0 2.2 -1.7 3.2 -3.4 3.2c-1.7 0 -3.4 -.9 -3.4 -3.2c0 -2.9 2 -7.4 3.4 -7.4z" fill="url(#b2)"/><path d="M393.1 95.6c2.1 0 5 7.7 5 12.7c0 3.8 -2.5 5.4 -5 5.4c-2.5 0 -5 -1.6 -5 -5.4c0 -5 2.9 -12.7 5 -12.7z" fill="url(#b1)"/><path d="M381 98.8c1.7 0 4.2 6.1 4.2 10c0 3 -2.1 4.3 -4.2 4.3c-2.1 0 -4.2 -1.3 -4.2 -4.3c0 -3.9 2.4 -10 4.2 -10z" fill="url(#b0)"/><path d="M357.1 101.8c1.7 0 4 5.7 4 9.4c0 2.8 -2 4 -4 4c-2 0 -4 -1.2 -4 -4c0 -3.7 2.3 -9.4 4 -9.4z" fill="url(#b1)"/><path d="M411 100.1c1.9 0 4.5 6.7 4.5 11c0 3.3 -2.3 4.7 -4.5 4.7c-2.3 0 -4.5 -1.4 -4.5 -4.7c0 -4.3 2.6 -11 4.5 -11z" fill="url(#b1)"/><path d="M389.7 102.2c1.7 0 4.1 5.7 4.1 9.4c0 2.8 -2 4 -4.1 4c-2 0 -4.1 -1.2 -4.1 -4c0 -3.7 2.4 -9.4 4.1 -9.4z" fill="url(#b1)"/><path d="M362.6 98.3c2.6 0 6.2 9 6.2 14.8c0 4.5 -3.1 6.4 -6.2 6.4c-3.1 0 -6.2 -1.9 -6.2 -6.4c0 -5.8 3.6 -14.8 6.2 -14.8z" fill="url(#b1)"/><path d="M418.4 102.7c1.7 0 4.1 5.8 4.1 9.6c0 2.9 -2 4.1 -4.1 4.1c-2 0 -4.1 -1.2 -4.1 -4.1c0 -3.8 2.4 -9.6 4.1 -9.6z" fill="url(#b1)"/><path d="M366.9 104.9c1.6 0 3.9 5.1 3.9 8.4c0 2.5 -1.9 3.6 -3.9 3.6c-1.9 0 -3.9 -1.1 -3.9 -3.6c0 -3.3 2.2 -8.4 3.9 -8.4z" fill="url(#b2)"/><path d="M435.3 107.1c1.4 0 3.3 4.1 3.3 6.7c0 2 -1.6 2.9 -3.3 2.9c-1.6 0 -3.3 -.9 -3.3 -2.9c0 -2.6 1.9 -6.7 3.3 -6.7z" fill="url(#b3)"/><path d="M379.4 108c1.3 0 3.1 3.9 3.1 6.3c0 1.9 -1.6 2.7 -3.1 2.7c-1.6 0 -3.1 -.8 -3.1 -2.7c0 -2.5 1.8 -6.3 3.1 -6.3z" fill="url(#b4)"/><path d="M417.2 105.8c1.6 0 3.9 5.2 3.9 8.6c0 2.6 -2 3.7 -3.9 3.7c-2 0 -3.9 -1.1 -3.9 -3.7c0 -3.4 2.3 -8.6 3.9 -8.6z" fill="url(#b2)"/><path d="M400.8 106.8c1.4 0 3.2 4.3 3.2 7.1c0 2.1 -1.6 3.1 -3.2 3.1c-1.6 0 -3.2 -.9 -3.2 -3.1c0 -2.8 1.9 -7.1 3.2 -7.1z" fill="url(#b2)"/><path d="M370.8 104.2c2.2 0 5.4 7 5.4 11.6c0 3.5 -2.7 5 -5.4 5c-2.7 0 -5.4 -1.5 -5.4 -5c0 -4.5 3.1 -11.6 5.4 -11.6z" fill="url(#b2)"/><path d="M424.7 108.2c1.3 0 3.1 4 3.1 6.6c0 2 -1.6 2.8 -3.1 2.8c-1.6 0 -3.1 -.9 -3.1 -2.8c0 -2.6 1.8 -6.6 3.1 -6.6z" fill="url(#b3)"/><path d="M395.9 107.6c1.6 0 3.8 5 3.8 8.2c0 2.4 -1.9 3.5 -3.8 3.5c-1.9 0 -3.8 -1 -3.8 -3.5c0 -3.2 2.2 -8.2 3.8 -8.2z" fill="url(#b3)"/><path d="M409.9 105.1c2.4 0 5.6 7.5 5.6 12.4c0 3.7 -2.8 5.3 -5.6 5.3c-2.8 0 -5.6 -1.6 -5.6 -5.3c0 -4.9 3.3 -12.4 5.6 -12.4z" fill="url(#b2)"/><path d="M399.9 110.4c1.3 0 3.2 4 3.2 6.5c0 2 -1.6 2.8 -3.2 2.8c-1.6 0 -3.2 -.8 -3.2 -2.8c0 -2.6 1.8 -6.5 3.2 -6.5z" fill="url(#b3)"/><path d="M386.9 110.6c1.3 0 3.1 3.8 3.1 6.3c0 1.9 -1.5 2.7 -3.1 2.7c-1.5 0 -3.1 -.8 -3.1 -2.7c0 -2.5 1.8 -6.3 3.1 -6.3z" fill="url(#b3)"/><path d="M374.4 108.6c1.6 0 3.9 5.2 3.9 8.6c0 2.6 -1.9 3.7 -3.9 3.7c-1.9 0 -3.9 -1.1 -3.9 -3.7c0 -3.4 2.3 -8.6 3.9 -8.6z" fill="url(#b2)"/><path d="M367.7 111.1c1.3 0 3.1 4 3.1 6.5c0 2 -1.6 2.8 -3.1 2.8c-1.6 0 -3.1 -.8 -3.1 -2.8c0 -2.6 1.8 -6.5 3.1 -6.5z" fill="url(#b3)"/><path d="M391.3 110.6c1.6 0 3.7 5 3.7 8.2c0 2.5 -1.9 3.5 -3.7 3.5c-1.9 0 -3.7 -1.1 -3.7 -3.5c0 -3.2 2.2 -8.2 3.7 -8.2z" fill="url(#b2)"/><path d="M373.3 111.2c1.6 0 3.9 5.1 3.9 8.5c0 2.5 -1.9 3.6 -3.9 3.6c-1.9 0 -3.9 -1.1 -3.9 -3.6c0 -3.3 2.3 -8.5 3.9 -8.5z" fill="url(#b2)"/><path d="M423.1 109.3c1.8 0 4.2 6.1 4.2 10.1c0 3 -2.1 4.3 -4.2 4.3c-2.1 0 -4.2 -1.3 -4.2 -4.3c0 -4 2.5 -10.1 4.2 -10.1z" fill="url(#b1)"/><path d="M404.3 112.8c1.5 0 3.5 4.5 3.5 7.4c0 2.2 -1.8 3.2 -3.5 3.2c-1.8 0 -3.5 -.9 -3.5 -3.2c0 -2.9 2 -7.4 3.5 -7.4z" fill="url(#b3)"/><path d="M379.5 107.6c2.5 0 5.9 8.4 5.9 13.8c0 4.2 -3 5.9 -5.9 5.9c-3 0 -5.9 -1.8 -5.9 -5.9c0 -5.4 3.4 -13.8 5.9 -13.8z" fill="url(#b1)"/><path d="M431.5 110.5c1.9 0 4.6 6.8 4.6 11.2c0 3.4 -2.3 4.8 -4.6 4.8c-2.3 0 -4.6 -1.4 -4.6 -4.8c0 -4.4 2.7 -11.2 4.6 -11.2z" fill="url(#b1)"/><path d="M413.2 115.1c1.4 0 3.4 4.4 3.4 7.2c0 2.2 -1.7 3.1 -3.4 3.1c-1.7 0 -3.4 -.9 -3.4 -3.1c0 -2.8 2 -7.2 3.4 -7.2z" fill="url(#b3)"/><path d="M378.4 114.5c2.2 0 5.2 6.6 5.2 10.9c0 3.3 -2.6 4.7 -5.2 4.7c-2.6 0 -5.2 -1.4 -5.2 -4.7c0 -4.3 3 -10.9 5.2 -10.9z" fill="url(#b3)"/><path d="M388.2 119.3c1.2 0 2.8 3.3 2.8 5.4c0 1.6 -1.4 2.3 -2.8 2.3c-1.4 0 -2.8 -.7 -2.8 -2.3c0 -2.1 1.6 -5.4 2.8 -5.4z" fill="url(#b4)"/><path d="M416.2 118.2c1.3 0 3.2 3.9 3.2 6.5c0 1.9 -1.6 2.8 -3.2 2.8c-1.6 0 -3.2 -.8 -3.2 -2.8c0 -2.5 1.8 -6.5 3.2 -6.5z" fill="url(#b3)"/><path d="M429.2 116c1.5 0 3.6 5 3.6 8.2c0 2.5 -1.8 3.5 -3.6 3.5c-1.8 0 -3.6 -1.1 -3.6 -3.5c0 -3.2 2.1 -8.2 3.6 -8.2z" fill="url(#b2)"/><path d="M411.9 120.5c1.3 0 3.1 3.8 3.1 6.3c0 1.9 -1.5 2.7 -3.1 2.7c-1.5 0 -3.1 -.8 -3.1 -2.7c0 -2.5 1.8 -6.3 3.1 -6.3z" fill="url(#b3)"/><path d="M393.9 119.4c2 0 4.7 5.6 4.7 9.3c0 2.8 -2.4 4 -4.7 4c-2.4 0 -4.7 -1.2 -4.7 -4c0 -3.6 2.7 -9.3 4.7 -9.3z" fill="url(#b4)"/><path d="M397.8 120.9c1.4 0 3.4 4.2 3.4 7c0 2.1 -1.7 3 -3.4 3c-1.7 0 -3.4 -.9 -3.4 -3c0 -2.7 2 -7 3.4 -7z" fill="url(#b3)"/><path d="M383.3 122.1c1.2 0 3 3.8 3 6.3c0 1.9 -1.5 2.7 -3 2.7c-1.5 0 -3 -.8 -3 -2.7c0 -2.5 1.7 -6.3 3 -6.3z" fill="url(#b3)"/><path d="M421.9 121.8c1.4 0 3.3 4.2 3.3 7c0 2.1 -1.6 3 -3.3 3c-1.6 0 -3.3 -.9 -3.3 -3c0 -2.7 1.9 -7 3.3 -7z" fill="url(#b3)"/><path d="M403 125.2c1.2 0 3 3.7 3 6.1c0 1.8 -1.5 2.6 -3 2.6c-1.5 0 -3 -.8 -3 -2.6c0 -2.4 1.7 -6.1 3 -6.1z" fill="url(#b3)"/><path d="M396.7 126.4c1.3 0 3 3.7 3 6.2c0 1.9 -1.5 2.6 -3 2.6c-1.5 0 -3 -.8 -3 -2.6c0 -2.4 1.8 -6.2 3 -6.2z" fill="url(#b3)"/><path d="M422.9 125.3c1.5 0 3.6 4.7 3.6 7.8c0 2.3 -1.8 3.3 -3.6 3.3c-1.8 0 -3.6 -1 -3.6 -3.3c0 -3.1 2.1 -7.8 3.6 -7.8z" fill="url(#b3)"/><path d="M410.4 129c1.1 0 2.7 3.4 2.7 5.6c0 1.7 -1.4 2.4 -2.7 2.4c-1.4 0 -2.7 -.7 -2.7 -2.4c0 -2.2 1.6 -5.6 2.7 -5.6z" fill="url(#b3)"/><path d="M403.8 128c1.6 0 3.8 5.1 3.8 8.4c0 2.5 -1.9 3.6 -3.8 3.6c-1.9 0 -3.8 -1.1 -3.8 -3.6c0 -3.3 2.2 -8.4 3.8 -8.4z" fill="url(#b2)"/><path d="M414.6 131.4c1.2 0 2.8 3.5 2.8 5.8c0 1.7 -1.4 2.5 -2.8 2.5c-1.4 0 -2.8 -.7 -2.8 -2.5c0 -2.3 1.7 -5.8 2.8 -5.8z" fill="url(#b4)"/><path d="M399.5 130c1.7 0 4 5.5 4 9c0 2.7 -2 3.9 -4 3.9c-2 0 -4 -1.2 -4 -3.9c0 -3.6 2.3 -9 4 -9z" fill="url(#b2)"/><path d="M411.2 133.5c1.3 0 3.2 4 3.2 6.6c0 2 -1.6 2.8 -3.2 2.8c-1.6 0 -3.2 -.9 -3.2 -2.8c0 -2.6 1.8 -6.6 3.2 -6.6z" fill="url(#b3)"/><path d="M407.7 132.4c1.6 0 3.7 4.9 3.7 8.1c0 2.4 -1.9 3.5 -3.7 3.5c-1.9 0 -3.7 -1 -3.7 -3.5c0 -3.2 2.1 -8.1 3.7 -8.1z" fill="url(#b2)"/><path d="M409.4 135.3c1.6 0 3.7 5.3 3.7 8.8c0 2.6 -1.9 3.8 -3.7 3.8c-1.9 0 -3.7 -1.1 -3.7 -3.8c0 -3.4 2.1 -8.8 3.7 -8.8z" fill="url(#b1)"/><path d="M404.7 133.1c2.5 0 5.9 8.4 5.9 13.8c0 4.1 -2.9 5.9 -5.9 5.9c-2.9 0 -5.9 -1.8 -5.9 -5.9c0 -5.4 3.4 -13.8 5.9 -13.8z" fill="url(#b1)"/></g></g>
<polyline points="364.0,329.2 367.5,326.5 371.0,321.6 376.6,307.6 380.8,290.8 385.0,271.2 389.2,248.8 392.0,234.8 394.8,222.2 397.6,212.4 399.2,208.8 400.4,206.8 401.2,205.8 401.9,205.4 402.7,205.5 403.5,206.1 404.6,207.4 408.8,215.2 413.0,229.2 418.6,247.4 424.2,265.6 429.8,282.4 435.4,297.8 441.0,309.0 446.6,317.4 453.6,323.8 460.6,327.2 467.6,329.0 471.0,329.4" fill="none" stroke="#000" stroke-width="2" stroke-linejoin="round"/>
<rect x="309.4" y="177.0" width="169.0" height="152.6" fill="none" stroke="#1c1c1c" stroke-width="1.3"/>
<path d="M326.9 329.6v-2.6M326.9 177.0v2.6M347.4 329.6v-2.6M347.4 177.0v2.6M367.9 329.6v-2.6M367.9 177.0v2.6M388.4 329.6v-2.6M388.4 177.0v2.6M408.9 329.6v-2.6M408.9 177.0v2.6M429.4 329.6v-2.6M429.4 177.0v2.6M449.9 329.6v-2.6M449.9 177.0v2.6M470.4 329.6v-2.6M470.4 177.0v2.6M309.4 229.5h3.2M478.4 229.5h-3.2M309.4 281.4h3.2M478.4 281.4h-3.2" stroke="#1c1c1c" stroke-width="1.1" fill="none"/>
<clipPath id="cc"><rect x="112.0" y="408.0" width="313.4" height="233.8"/></clipPath>
<g clip-path="url(#cc)" fill="none" stroke-width="2.4" stroke-linejoin="round" stroke-linecap="round">
<polyline points="144.0,592.3 148.0,592.0 151.2,591.4 155.6,585.6 160.0,566.9 164.3,535.2 168.7,497.7 173.0,475.0 177.0,464.0 181.4,460.0 187.0,458.3 194.0,457.4 202.3,457.3 209.5,457.9 213.8,459.6 218.1,458.7 222.5,459.3 226.8,461.6 229.3,462.5 233.1,461.6 236.5,458.7 240.9,463.1 245.8,468.3 250.4,461.6 254.7,460.8 259.6,467.4 264.5,468.8 268.8,461.6 273.2,455.9 277.5,461.6 282.1,472.6 286.1,471.7 290.7,461.0 295.1,461.6 300.0,474.6 304.9,480.9 310.1,474.0 313.8,469.4 317.8,470.3 321.6,476.0 324.5,481.8 326.8,486.7" stroke="#000"/>
<polyline points="146.0,592.3 150.5,591.4 154.0,589.4 158.4,575.5 162.7,549.6 167.0,526.5 171.4,512.1 175.6,504.9 179.8,501.6 185.5,500.6 191.0,500.6 197.0,501.4 204.0,503.4 211.0,506.1 218.1,506.9 225.0,509.2 229.3,512.1 236.5,511.5 240.9,515.5 246.6,520.7 250.4,519.9 254.7,521.3 259.6,526.5 264.5,531.7 268.8,532.3 273.2,532.8 277.5,538.0 282.1,546.1 286.1,551.0 290.7,553.3 295.1,556.8 300.0,566.9 304.9,577.0 306.0,580.0 310.1,585.8 316.0,594.0 320.0,600.0 324.0,606.0 327.0,612.0 330.0,618.0 332.0,623.0 334.0,628.0 336.0,634.0 338.0,640.0 339.5,644.0" stroke="#ff00ff"/>
<polyline points="146.0,592.3 150.5,591.6 154.0,589.9 158.4,578.4 162.7,555.3 167.0,535.2 171.4,523.6 175.6,517.9 179.8,515.8 184.0,515.4 189.5,516.2 196.5,519.0 203.7,522.6 210.9,525.6 218.1,528.6 225.0,530.8 230.8,535.0 236.5,538.0 242.3,545.0 246.6,548.6 252.4,553.0 258.2,560.6 263.9,569.0 269.7,576.5 272.0,580.0 276.0,586.0 280.0,592.0 283.0,598.0 286.0,604.0 288.5,609.5 290.5,614.0 294.0,619.0 298.0,624.5 300.5,629.0 303.0,634.0 305.0,637.5 307.0,640.5 308.5,644.0" stroke="#00ffff"/>
<polyline points="146.0,592.3 150.5,591.8 153.5,590.6 158.0,584.0 162.0,572.0 166.0,556.0 170.0,544.5 174.5,538.0 179.0,535.6 183.5,536.2 190.0,539.0 195.0,541.8 200.0,545.0 205.0,548.8 210.0,553.0 215.0,557.3 220.0,562.0 225.0,567.3 230.0,573.0 235.0,580.5 239.0,587.0 242.0,591.5 245.0,597.0 250.0,606.0 255.0,614.0 260.0,622.0 263.0,628.0 266.0,634.0 269.0,640.5 270.2,644.0" stroke="#0000e0"/>
<polyline points="146.0,592.3 152.0,591.6 156.3,590.3 160.6,584.6 165.0,577.0 169.2,570.0 172.0,567.6 174.4,567.0 177.5,567.8 180.0,570.0 183.0,573.0 186.0,576.0 189.0,579.3 192.0,583.0 196.0,587.9 200.0,593.1 205.0,600.3 210.0,608.0 215.0,616.0 220.0,624.0 225.0,632.0 230.0,640.0 232.5,644.0" stroke="#00ff00"/>
<polyline points="112.0,592.4 150.0,592.4 154.0,592.8 157.0,594.0 159.5,596.2 162.0,599.5 164.0,603.0 167.0,609.0 170.0,615.0 173.5,621.5 177.0,628.0 180.5,634.0 184.0,640.0 186.0,643.5" stroke="#ff0000"/>
</g>
<line x1="334.6" y1="453.9" x2="358.8" y2="453.9" stroke="#000" stroke-width="2.2"/>
<line x1="334.6" y1="478.5" x2="358.8" y2="478.5" stroke="#ff00ff" stroke-width="2.2"/>
<line x1="334.6" y1="503.0" x2="358.8" y2="503.0" stroke="#00ffff" stroke-width="2.2"/>
<line x1="334.6" y1="528.0" x2="358.8" y2="528.0" stroke="#0000e0" stroke-width="2.2"/>
<line x1="334.6" y1="553.0" x2="358.8" y2="553.0" stroke="#00ff00" stroke-width="2.2"/>
<line x1="334.6" y1="577.7" x2="358.8" y2="577.7" stroke="#ff0000" stroke-width="2.2"/>
<rect x="112.0" y="408.0" width="313.4" height="233.8" fill="none" stroke="#000" stroke-width="2.4"/>
<path d="M112.0 616.88h3.2M425.4 616.88h-3.2M112.0 592.25h5.2M425.4 592.25h-5.2M112.0 567.62h3.2M425.4 567.62h-3.2M112.0 543.00h5.2M425.4 543.00h-5.2M112.0 518.38h3.2M425.4 518.38h-3.2M112.0 493.75h5.2M425.4 493.75h-5.2M112.0 469.12h3.2M425.4 469.12h-3.2M112.0 444.50h5.2M425.4 444.50h-5.2M112.0 419.88h3.2M425.4 419.88h-3.2M156.8 641.8v-5.2M156.8 408.0v5.2M201.6 641.8v-3.2M201.6 408.0v3.2M246.4 641.8v-5.2M246.4 408.0v5.2M291.2 641.8v-3.2M291.2 408.0v3.2M336.0 641.8v-5.2M336.0 408.0v5.2M380.8 641.8v-3.2M380.8 408.0v3.2" stroke="#000" stroke-width="2" fill="none"/>
<text id="s1" transform="translate(45.27 32.00) scale(1.0943 1)" font-family='"Liberation Sans", sans-serif' font-size="13.30" font-weight="normal" fill="#111" stroke="#111" stroke-width="0.40" xml:space="preserve">200 nm p-GaN contact Layer</text>
<text id="s2a" transform="translate(22.28 64.70) scale(1.0760 1)" font-family='"Liberation Sans", sans-serif' font-size="13.10" font-weight="normal" fill="#111" stroke="#111" stroke-width="0.40" xml:space="preserve">500 nm p-Al<tspan dy="3.00" font-size="8.30" font-weight="bold">0.07</tspan><tspan dy="-3.00">Ga</tspan><tspan dy="3.00" font-size="8.30" font-weight="bold">0.93</tspan></text>
<text id="s2b" transform="translate(151.28 64.70) scale(0.9983 1)" font-family='"Liberation Sans", sans-serif' font-size="13.10" font-weight="normal" fill="#111" stroke="#111" stroke-width="0.40" xml:space="preserve">N Cladding Layer</text>
<text id="s3a" transform="translate(20.98 95.80) scale(1.0671 1)" font-family='"Liberation Sans", sans-serif' font-size="13.10" font-weight="normal" fill="#111" stroke="#111" stroke-width="0.40" xml:space="preserve">150 nm p-In<tspan dy="3.00" font-size="8.30" font-weight="bold">0.1</tspan><tspan dy="-3.00">Ga</tspan><tspan dy="3.00" font-size="8.30" font-weight="bold">0.9</tspan></text>
<text id="s3b" transform="translate(138.28 95.80) scale(1.0286 1)" font-family='"Liberation Sans", sans-serif' font-size="13.10" font-weight="normal" fill="#111" stroke="#111" stroke-width="0.40" xml:space="preserve">N Waveguide Layer</text>
<text id="s4a" transform="translate(55.58 117.80) scale(1.1291 1)" font-family='"Liberation Sans", sans-serif' font-size="13.10" font-weight="normal" fill="#111" stroke="#111" stroke-width="0.40" xml:space="preserve">20 nm p-Al<tspan dy="3.00" font-size="8.30" font-weight="bold">0.15</tspan><tspan dy="-3.00">Ga</tspan><tspan dy="3.00" font-size="8.30" font-weight="bold">0.85</tspan></text>
<text id="s4b" transform="translate(182.78 117.80) scale(0.9946 1)" font-family='"Liberation Sans", sans-serif' font-size="13.10" font-weight="normal" fill="#111" stroke="#111" stroke-width="0.40" xml:space="preserve">N EBL</text>
<text id="s5a" transform="translate(10.88 153.00) scale(1.1480 1)" font-family='"Liberation Sans", sans-serif' font-size="13.10" font-weight="bold" fill="#000" stroke="#000" stroke-width="0.15" xml:space="preserve">8x In<tspan dy="3.00" font-size="8.30" font-weight="bold">0.27</tspan><tspan dy="-3.00">Ga</tspan><tspan dy="3.00" font-size="8.30" font-weight="bold">0.73</tspan></text>
<text id="s5b" transform="translate(101.68 153.00) scale(1.1063 1)" font-family='"Liberation Sans", sans-serif' font-size="13.10" font-weight="bold" fill="#000" stroke="#000" stroke-width="0.15" xml:space="preserve">N QD/10nm GaN Barrier</text>
<text id="s6a" transform="translate(20.98 187.30) scale(1.0680 1)" font-family='"Liberation Sans", sans-serif' font-size="13.10" font-weight="normal" fill="#111" stroke="#111" stroke-width="0.40" xml:space="preserve">150 nm n-In<tspan dy="3.00" font-size="8.30" font-weight="bold">0.1</tspan><tspan dy="-3.00">Ga</tspan><tspan dy="3.00" font-size="8.30" font-weight="bold">0.9</tspan></text>
<text id="s6b" transform="translate(138.38 187.30) scale(1.0243 1)" font-family='"Liberation Sans", sans-serif' font-size="13.10" font-weight="normal" fill="#111" stroke="#111" stroke-width="0.40" xml:space="preserve">N Waveguide Layer</text>
<text id="s7a" transform="translate(29.64 217.40) scale(1.1001 1)" font-family='"Liberation Sans", sans-serif' font-size="12.00" font-weight="normal" fill="#111" stroke="#111" stroke-width="0.35" xml:space="preserve">500 nm n-Al<tspan dy="2.80" font-size="7.60" font-weight="bold">0.07</tspan><tspan dy="-2.80">Ga</tspan><tspan dy="2.80" font-size="7.60" font-weight="bold">0.93</tspan></text>
<text id="s7b" transform="translate(150.14 217.40) scale(1.0323 1)" font-family='"Liberation Sans", sans-serif' font-size="12.00" font-weight="normal" fill="#111" stroke="#111" stroke-width="0.35" xml:space="preserve">N Cladding Layer</text>
<text id="s8" transform="translate(71.26 261.00) scale(1.0748 1)" font-family='"Liberation Sans", sans-serif' font-size="13.40" font-weight="normal" fill="#111" stroke="#111" stroke-width="0.40" xml:space="preserve">500 nm n-GaN Layer</text>
<text id="s9" transform="translate(47.23 318.00) scale(1.1060 1)" font-family='"Liberation Sans", sans-serif' font-size="14.00" font-weight="bold" fill="#fff" xml:space="preserve">500 µm n-GaN Substrate</text>
<text id="s10" transform="translate(69.28 359.00) scale(1.1970 1)" font-family='"Liberation Sans", sans-serif' font-size="13.10" font-weight="bold" fill="#000" xml:space="preserve">1 µm molybdenum</text>
<text id="la" transform="translate(248.03 382.70) scale(1.0859 1)" font-family='"Liberation Serif", serif' font-size="14.00" font-weight="normal" fill="#000" xml:space="preserve">(a)</text>
<text id="lb" transform="translate(247.90 707.20) scale(1.1232 1)" font-family='"Liberation Sans", sans-serif' font-size="11.00" font-weight="normal" fill="#222" xml:space="preserve">(b)</text>
<text id="a1" transform="translate(290.88 78.00) scale(1.1814 1)" font-family='"Liberation Sans", sans-serif' font-size="11.20" font-weight="bold" fill="#2a2a2a" xml:space="preserve">10.0</text>
<text id="a2" transform="translate(294.32 86.40) scale(1.1527 1)" font-family='"Liberation Sans", sans-serif' font-size="10.50" font-weight="bold" fill="#2a2a2a" xml:space="preserve">nm</text>
<text id="a3" transform="translate(297.38 99.80) scale(1.2358 1)" font-family='"Liberation Sans", sans-serif' font-size="11.20" font-weight="bold" fill="#2a2a2a" xml:space="preserve">0.0</text>
<text id="a4" transform="translate(306.94 118.30) scale(1.0674 1)" font-family='"Liberation Sans", sans-serif' font-size="12.00" font-weight="bold" fill="#2a2a2a" xml:space="preserve">500</text>
<text id="a5" transform="translate(347.74 144.00) scale(1.0920 1)" font-family='"Liberation Sans", sans-serif' font-size="12.00" font-weight="bold" fill="#2a2a2a" xml:space="preserve">250</text>
<text id="a6" transform="translate(391.84 169.20) scale(1.0632 1)" font-family='"Liberation Sans", sans-serif' font-size="12.00" font-weight="bold" fill="#2a2a2a" xml:space="preserve">0.0 nm</text>
<text id="a7" transform="translate(418.94 157.20) scale(1.0474 1)" font-family='"Liberation Sans", sans-serif' font-size="12.00" font-weight="bold" fill="#2a2a2a" xml:space="preserve">500 nm</text>
<text id="a8" transform="translate(448.94 120.00) scale(1.1018 1)" font-family='"Liberation Sans", sans-serif' font-size="12.00" font-weight="bold" fill="#2a2a2a" xml:space="preserve">250</text>
<text id="a9" transform="translate(478.94 84.70) scale(1.2065 1)" font-family='"Liberation Sans", sans-serif' font-size="12.00" font-weight="bold" fill="#2a2a2a" xml:space="preserve">0.0</text>
<text id="p1" transform="translate(316.34 195.00) scale(1.2293 1)" font-family='"Liberation Sans", sans-serif' font-size="12.00" font-weight="bold" fill="#1a1a1a" xml:space="preserve"><tspan font-weight="normal" font-size="11.5">λ</tspan><tspan dy="0.30" font-size="9.00" font-weight="bold">P</tspan><tspan dy="-0.30">=529nm</tspan></text>
<text id="p2" transform="translate(317.34 213.00) scale(1.2297 1)" font-family='"Liberation Sans", sans-serif' font-size="12.00" font-weight="bold" fill="#1a1a1a" xml:space="preserve">T=300K</text>
<text id="p3" transform="translate(336.74 343.00) scale(1.0478 1)" font-family='"Liberation Sans", sans-serif' font-size="12.00" font-weight="bold" fill="#1a1a1a" xml:space="preserve">400</text>
<text id="p4" transform="translate(377.74 343.00) scale(1.0478 1)" font-family='"Liberation Sans", sans-serif' font-size="12.00" font-weight="bold" fill="#1a1a1a" xml:space="preserve">500</text>
<text id="p5" transform="translate(418.94 343.00) scale(1.0478 1)" font-family='"Liberation Sans", sans-serif' font-size="12.00" font-weight="bold" fill="#1a1a1a" xml:space="preserve">600</text>
<text id="p6" transform="translate(459.74 343.00) scale(1.0036 1)" font-family='"Liberation Sans", sans-serif' font-size="12.00" font-weight="bold" fill="#1a1a1a" xml:space="preserve">700</text>
<text id="p7" transform="translate(332.20 357.40) scale(1.0657 1)" font-family='"Liberation Sans", sans-serif' font-size="14.50" font-weight="bold" fill="#1a1a1a" xml:space="preserve">Wavelength (nm)</text>
<text id="p8" transform="translate(303.90 326.50) rotate(-90) scale(1.0509 1)" font-family='"Liberation Sans", sans-serif' font-size="14.50" font-weight="bold" fill="#1a1a1a" xml:space="preserve">PL Intensity (a.u.)</text>
<text id="c1" transform="translate(79.12 449.50) scale(1.0453 1)" font-family='"Liberation Sans", sans-serif' font-size="16.00" font-weight="normal" fill="#000" xml:space="preserve">120</text>
<text id="c2" transform="translate(86.62 498.75) scale(1.1459 1)" font-family='"Liberation Sans", sans-serif' font-size="16.00" font-weight="normal" fill="#000" xml:space="preserve">80</text>
<text id="c3" transform="translate(86.62 548.00) scale(1.1459 1)" font-family='"Liberation Sans", sans-serif' font-size="16.00" font-weight="normal" fill="#000" xml:space="preserve">40</text>
<text id="c4" transform="translate(96.12 597.50) scale(1.2233 1)" font-family='"Liberation Sans", sans-serif' font-size="16.00" font-weight="normal" fill="#000" xml:space="preserve">0</text>
<text id="c5" transform="translate(80.37 647.00) scale(1.1521 1)" font-family='"Liberation Sans", sans-serif' font-size="16.00" font-weight="normal" fill="#000" xml:space="preserve">-40</text>
<text id="c6" transform="translate(143.52 660.30) scale(1.1260 1)" font-family='"Liberation Sans", sans-serif' font-size="16.00" font-weight="normal" fill="#000" xml:space="preserve">2.3</text>
<text id="c7" transform="translate(233.12 660.30) scale(1.1529 1)" font-family='"Liberation Sans", sans-serif' font-size="16.00" font-weight="normal" fill="#000" xml:space="preserve">2.4</text>
<text id="c8" transform="translate(322.92 660.30) scale(1.1260 1)" font-family='"Liberation Sans", sans-serif' font-size="16.00" font-weight="normal" fill="#000" xml:space="preserve">2.5</text>
<text id="c9" transform="translate(412.92 660.30) scale(1.1350 1)" font-family='"Liberation Sans", sans-serif' font-size="16.00" font-weight="normal" fill="#000" xml:space="preserve">2.6</text>
<text id="c10" transform="translate(163.32 684.20) scale(1.0388 1)" font-family='"Liberation Sans", sans-serif' font-size="23.30" font-weight="normal" fill="#000" xml:space="preserve">Photon Energy (eV)</text>
<text id="c11" transform="translate(72.70 615.92) rotate(-90) scale(1.0075 1)" font-family='"Liberation Sans", sans-serif' font-size="24.00" font-weight="normal" fill="#000" xml:space="preserve">Modal Gain(cm<tspan dy="-11.50" font-size="15.00">-1</tspan><tspan dy="11.50">)</tspan></text>
<text id="c12" transform="translate(128.72 435.80) scale(1.0998 1)" font-family='"Liberation Sans", sans-serif' font-size="16.00" font-weight="normal" fill="#000" xml:space="preserve">In<tspan dy="7.20" font-size="10.00">0.27</tspan><tspan dy="-7.20">Ga</tspan><tspan dy="7.20" font-size="10.00">0.73</tspan><tspan dy="-7.20">N QD</tspan></text>
<text id="c13" transform="translate(362.87 432.50) scale(1.0827 1)" font-family='"Liberation Sans", sans-serif' font-size="16.00" font-weight="normal" fill="#000" xml:space="preserve">n=</text>
<text id="l0" transform="translate(361.52 457.50) scale(1.0793 1)" font-family='"Liberation Sans", sans-serif' font-size="16.00" font-weight="normal" fill="#000" xml:space="preserve">2X10<tspan dy="-8.50" font-size="11.00">19</tspan></text>
<text id="l1" transform="translate(363.32 482.00) scale(1.0430 1)" font-family='"Liberation Sans", sans-serif' font-size="16.00" font-weight="normal" fill="#000" xml:space="preserve">1X10<tspan dy="-8.50" font-size="11.00">19</tspan></text>
<text id="l2" transform="translate(361.52 506.50) scale(1.0793 1)" font-family='"Liberation Sans", sans-serif' font-size="16.00" font-weight="normal" fill="#000" xml:space="preserve">8X10<tspan dy="-8.50" font-size="11.00">18</tspan></text>
<text id="l3" transform="translate(361.52 531.50) scale(1.0793 1)" font-family='"Liberation Sans", sans-serif' font-size="16.00" font-weight="normal" fill="#000" xml:space="preserve">6X10<tspan dy="-8.50" font-size="11.00">18</tspan></text>
<text id="l4" transform="translate(361.52 556.50) scale(1.0793 1)" font-family='"Liberation Sans", sans-serif' font-size="16.00" font-weight="normal" fill="#000" xml:space="preserve">4X10<tspan dy="-8.50" font-size="11.00">18</tspan></text>
<text id="l5" transform="translate(363.32 581.25) scale(1.0430 1)" font-family='"Liberation Sans", sans-serif' font-size="16.00" font-weight="normal" fill="#000" xml:space="preserve">1X10<tspan dy="-8.50" font-size="11.00">18</tspan></text>
<text id="c14" transform="translate(366.62 606.25) scale(1.0303 1)" font-family='"Liberation Sans", sans-serif' font-size="16.00" font-weight="normal" fill="#000" xml:space="preserve">cm<tspan dy="-8.70" font-size="10.50">-3</tspan></text>
</svg></body></html>
